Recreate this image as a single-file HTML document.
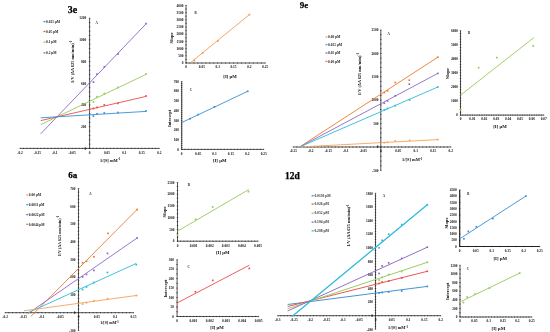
<!DOCTYPE html>
<html><head><meta charset="utf-8"><style>
html,body{margin:0;padding:0;background:#fff;width:550px;height:332px;overflow:hidden}
svg{display:block}
text{font-family:"Liberation Serif", serif}
</style></head><body>
<svg width="550" height="332" viewBox="0 0 550 332">
<rect width="550" height="332" fill="#fff"/>
<g style="will-change:transform">
<text x="72.60" y="12.70" font-size="10" font-weight="bold" text-anchor="middle" fill="#000" stroke="#000" stroke-width="0.25">3e</text>
<line x1="20.00" y1="148.40" x2="159.20" y2="148.40" stroke="#555" stroke-width="1.0"/>
<line x1="89.60" y1="148.40" x2="89.60" y2="18.20" stroke="#555" stroke-width="1.0"/>
<line x1="20.00" y1="147.80" x2="20.00" y2="149.00" stroke="#111" stroke-width="0.6"/>
<line x1="23.48" y1="147.80" x2="23.48" y2="149.00" stroke="#111" stroke-width="0.6"/>
<line x1="26.96" y1="147.80" x2="26.96" y2="149.00" stroke="#111" stroke-width="0.6"/>
<line x1="30.44" y1="147.80" x2="30.44" y2="149.00" stroke="#111" stroke-width="0.6"/>
<line x1="33.92" y1="147.80" x2="33.92" y2="149.00" stroke="#111" stroke-width="0.6"/>
<line x1="37.40" y1="147.80" x2="37.40" y2="149.00" stroke="#111" stroke-width="0.6"/>
<line x1="40.88" y1="147.80" x2="40.88" y2="149.00" stroke="#111" stroke-width="0.6"/>
<line x1="44.36" y1="147.80" x2="44.36" y2="149.00" stroke="#111" stroke-width="0.6"/>
<line x1="47.84" y1="147.80" x2="47.84" y2="149.00" stroke="#111" stroke-width="0.6"/>
<line x1="51.32" y1="147.80" x2="51.32" y2="149.00" stroke="#111" stroke-width="0.6"/>
<line x1="54.80" y1="147.80" x2="54.80" y2="149.00" stroke="#111" stroke-width="0.6"/>
<line x1="58.28" y1="147.80" x2="58.28" y2="149.00" stroke="#111" stroke-width="0.6"/>
<line x1="61.76" y1="147.80" x2="61.76" y2="149.00" stroke="#111" stroke-width="0.6"/>
<line x1="65.24" y1="147.80" x2="65.24" y2="149.00" stroke="#111" stroke-width="0.6"/>
<line x1="68.72" y1="147.80" x2="68.72" y2="149.00" stroke="#111" stroke-width="0.6"/>
<line x1="72.20" y1="147.80" x2="72.20" y2="149.00" stroke="#111" stroke-width="0.6"/>
<line x1="75.68" y1="147.80" x2="75.68" y2="149.00" stroke="#111" stroke-width="0.6"/>
<line x1="79.16" y1="147.80" x2="79.16" y2="149.00" stroke="#111" stroke-width="0.6"/>
<line x1="82.64" y1="147.80" x2="82.64" y2="149.00" stroke="#111" stroke-width="0.6"/>
<line x1="86.12" y1="147.80" x2="86.12" y2="149.00" stroke="#111" stroke-width="0.6"/>
<line x1="89.60" y1="147.80" x2="89.60" y2="149.00" stroke="#111" stroke-width="0.6"/>
<line x1="93.08" y1="147.80" x2="93.08" y2="149.00" stroke="#111" stroke-width="0.6"/>
<line x1="96.56" y1="147.80" x2="96.56" y2="149.00" stroke="#111" stroke-width="0.6"/>
<line x1="100.04" y1="147.80" x2="100.04" y2="149.00" stroke="#111" stroke-width="0.6"/>
<line x1="103.52" y1="147.80" x2="103.52" y2="149.00" stroke="#111" stroke-width="0.6"/>
<line x1="107.00" y1="147.80" x2="107.00" y2="149.00" stroke="#111" stroke-width="0.6"/>
<line x1="110.48" y1="147.80" x2="110.48" y2="149.00" stroke="#111" stroke-width="0.6"/>
<line x1="113.96" y1="147.80" x2="113.96" y2="149.00" stroke="#111" stroke-width="0.6"/>
<line x1="117.44" y1="147.80" x2="117.44" y2="149.00" stroke="#111" stroke-width="0.6"/>
<line x1="120.92" y1="147.80" x2="120.92" y2="149.00" stroke="#111" stroke-width="0.6"/>
<line x1="124.40" y1="147.80" x2="124.40" y2="149.00" stroke="#111" stroke-width="0.6"/>
<line x1="127.88" y1="147.80" x2="127.88" y2="149.00" stroke="#111" stroke-width="0.6"/>
<line x1="131.36" y1="147.80" x2="131.36" y2="149.00" stroke="#111" stroke-width="0.6"/>
<line x1="134.84" y1="147.80" x2="134.84" y2="149.00" stroke="#111" stroke-width="0.6"/>
<line x1="138.32" y1="147.80" x2="138.32" y2="149.00" stroke="#111" stroke-width="0.6"/>
<line x1="141.80" y1="147.80" x2="141.80" y2="149.00" stroke="#111" stroke-width="0.6"/>
<line x1="145.28" y1="147.80" x2="145.28" y2="149.00" stroke="#111" stroke-width="0.6"/>
<line x1="148.76" y1="147.80" x2="148.76" y2="149.00" stroke="#111" stroke-width="0.6"/>
<line x1="152.24" y1="147.80" x2="152.24" y2="149.00" stroke="#111" stroke-width="0.6"/>
<line x1="155.72" y1="147.80" x2="155.72" y2="149.00" stroke="#111" stroke-width="0.6"/>
<line x1="159.20" y1="147.80" x2="159.20" y2="149.00" stroke="#111" stroke-width="0.6"/>
<line x1="88.85" y1="148.40" x2="90.35" y2="148.40" stroke="#111" stroke-width="0.6"/>
<line x1="88.85" y1="144.06" x2="90.35" y2="144.06" stroke="#111" stroke-width="0.6"/>
<line x1="88.85" y1="139.72" x2="90.35" y2="139.72" stroke="#111" stroke-width="0.6"/>
<line x1="88.85" y1="135.38" x2="90.35" y2="135.38" stroke="#111" stroke-width="0.6"/>
<line x1="88.85" y1="131.04" x2="90.35" y2="131.04" stroke="#111" stroke-width="0.6"/>
<line x1="88.85" y1="126.70" x2="90.35" y2="126.70" stroke="#111" stroke-width="0.6"/>
<line x1="88.85" y1="122.36" x2="90.35" y2="122.36" stroke="#111" stroke-width="0.6"/>
<line x1="88.85" y1="118.02" x2="90.35" y2="118.02" stroke="#111" stroke-width="0.6"/>
<line x1="88.85" y1="113.68" x2="90.35" y2="113.68" stroke="#111" stroke-width="0.6"/>
<line x1="88.85" y1="109.34" x2="90.35" y2="109.34" stroke="#111" stroke-width="0.6"/>
<line x1="88.85" y1="105.00" x2="90.35" y2="105.00" stroke="#111" stroke-width="0.6"/>
<line x1="88.85" y1="100.66" x2="90.35" y2="100.66" stroke="#111" stroke-width="0.6"/>
<line x1="88.85" y1="96.32" x2="90.35" y2="96.32" stroke="#111" stroke-width="0.6"/>
<line x1="88.85" y1="91.98" x2="90.35" y2="91.98" stroke="#111" stroke-width="0.6"/>
<line x1="88.85" y1="87.64" x2="90.35" y2="87.64" stroke="#111" stroke-width="0.6"/>
<line x1="88.85" y1="83.30" x2="90.35" y2="83.30" stroke="#111" stroke-width="0.6"/>
<line x1="88.85" y1="78.96" x2="90.35" y2="78.96" stroke="#111" stroke-width="0.6"/>
<line x1="88.85" y1="74.62" x2="90.35" y2="74.62" stroke="#111" stroke-width="0.6"/>
<line x1="88.85" y1="70.28" x2="90.35" y2="70.28" stroke="#111" stroke-width="0.6"/>
<line x1="88.85" y1="65.94" x2="90.35" y2="65.94" stroke="#111" stroke-width="0.6"/>
<line x1="88.85" y1="61.60" x2="90.35" y2="61.60" stroke="#111" stroke-width="0.6"/>
<line x1="88.85" y1="57.26" x2="90.35" y2="57.26" stroke="#111" stroke-width="0.6"/>
<line x1="88.85" y1="52.92" x2="90.35" y2="52.92" stroke="#111" stroke-width="0.6"/>
<line x1="88.85" y1="48.58" x2="90.35" y2="48.58" stroke="#111" stroke-width="0.6"/>
<line x1="88.85" y1="44.24" x2="90.35" y2="44.24" stroke="#111" stroke-width="0.6"/>
<line x1="88.85" y1="39.90" x2="90.35" y2="39.90" stroke="#111" stroke-width="0.6"/>
<line x1="88.85" y1="35.56" x2="90.35" y2="35.56" stroke="#111" stroke-width="0.6"/>
<line x1="88.85" y1="31.22" x2="90.35" y2="31.22" stroke="#111" stroke-width="0.6"/>
<line x1="88.85" y1="26.88" x2="90.35" y2="26.88" stroke="#111" stroke-width="0.6"/>
<line x1="88.85" y1="22.54" x2="90.35" y2="22.54" stroke="#111" stroke-width="0.6"/>
<line x1="88.85" y1="18.20" x2="90.35" y2="18.20" stroke="#111" stroke-width="0.6"/>
<text x="20.00" y="153.93" font-size="3.5" font-weight="bold" text-anchor="middle" fill="#111">-0.2</text>
<text x="37.40" y="153.93" font-size="3.5" font-weight="bold" text-anchor="middle" fill="#111">-0.15</text>
<text x="54.80" y="153.93" font-size="3.5" font-weight="bold" text-anchor="middle" fill="#111">-0.1</text>
<text x="72.20" y="153.93" font-size="3.5" font-weight="bold" text-anchor="middle" fill="#111">-0.05</text>
<text x="89.60" y="153.93" font-size="3.5" font-weight="bold" text-anchor="middle" fill="#111">0</text>
<text x="107.00" y="153.93" font-size="3.5" font-weight="bold" text-anchor="middle" fill="#111">0.05</text>
<text x="124.40" y="153.93" font-size="3.5" font-weight="bold" text-anchor="middle" fill="#111">0.1</text>
<text x="141.80" y="153.93" font-size="3.5" font-weight="bold" text-anchor="middle" fill="#111">0.15</text>
<text x="159.20" y="153.93" font-size="3.5" font-weight="bold" text-anchor="middle" fill="#111">0.2</text>
<text x="86.30" y="149.62" font-size="3.5" font-weight="bold" text-anchor="end" fill="#111">0</text>
<text x="86.30" y="127.92" font-size="3.5" font-weight="bold" text-anchor="end" fill="#111">200</text>
<text x="86.30" y="106.22" font-size="3.5" font-weight="bold" text-anchor="end" fill="#111">400</text>
<text x="86.30" y="84.53" font-size="3.5" font-weight="bold" text-anchor="end" fill="#111">600</text>
<text x="86.30" y="62.83" font-size="3.5" font-weight="bold" text-anchor="end" fill="#111">800</text>
<text x="86.30" y="41.13" font-size="3.5" font-weight="bold" text-anchor="end" fill="#111">1000</text>
<text x="86.30" y="19.43" font-size="3.5" font-weight="bold" text-anchor="end" fill="#111">1200</text>
<line x1="40.71" y1="133.80" x2="145.98" y2="23.95" stroke="#8d68c6" stroke-width="0.9"/>
<line x1="40.71" y1="124.64" x2="145.98" y2="74.40" stroke="#96c95a" stroke-width="0.9"/>
<line x1="40.71" y1="120.62" x2="145.98" y2="96.43" stroke="#ea4f4c" stroke-width="0.9"/>
<line x1="40.71" y1="117.80" x2="145.98" y2="111.40" stroke="#3a8ed3" stroke-width="0.9"/>
<rect x="92.55" y="81.25" width="1.7" height="1.7" fill="#8d68c6"/>
<rect x="96.15" y="73.25" width="1.7" height="1.7" fill="#8d68c6"/>
<rect x="103.45" y="66.05" width="1.7" height="1.7" fill="#8d68c6"/>
<rect x="117.15" y="53.15" width="1.7" height="1.7" fill="#8d68c6"/>
<rect x="145.15" y="22.75" width="1.7" height="1.7" fill="#8d68c6"/>
<rect x="92.55" y="101.15" width="1.7" height="1.7" fill="#96c95a"/>
<rect x="96.15" y="95.85" width="1.7" height="1.7" fill="#96c95a"/>
<rect x="103.45" y="92.65" width="1.7" height="1.7" fill="#96c95a"/>
<rect x="117.05" y="86.65" width="1.7" height="1.7" fill="#96c95a"/>
<rect x="145.15" y="73.15" width="1.7" height="1.7" fill="#96c95a"/>
<rect x="92.55" y="107.65" width="1.7" height="1.7" fill="#ea4f4c"/>
<rect x="96.15" y="106.55" width="1.7" height="1.7" fill="#ea4f4c"/>
<rect x="103.45" y="104.05" width="1.7" height="1.7" fill="#ea4f4c"/>
<rect x="117.05" y="102.55" width="1.7" height="1.7" fill="#ea4f4c"/>
<rect x="145.15" y="95.15" width="1.7" height="1.7" fill="#ea4f4c"/>
<rect x="92.55" y="115.25" width="1.7" height="1.7" fill="#3a8ed3"/>
<rect x="96.15" y="113.05" width="1.7" height="1.7" fill="#3a8ed3"/>
<rect x="103.45" y="112.15" width="1.7" height="1.7" fill="#3a8ed3"/>
<rect x="117.05" y="111.65" width="1.7" height="1.7" fill="#3a8ed3"/>
<rect x="145.15" y="110.15" width="1.7" height="1.7" fill="#3a8ed3"/>
<text x="73.95" y="61.90" font-size="4.4" font-weight="bold" text-anchor="middle" fill="#111" transform="rotate(-90 73.95 61.90)">1/V (ΔA 625 nm/min)<tspan dy="-1.5" font-size="3">-1</tspan></text>
<text x="110.10" y="161.75" font-size="4.4" font-weight="bold" text-anchor="middle" fill="#111">1/[S] mM<tspan dy="-1.5" font-size="3">-1</tspan></text>
<text x="96.70" y="24.00" font-size="3.2" font-weight="bold" text-anchor="middle" fill="#111">A</text>
<rect x="43.50" y="20.95" width="2.0" height="1.3" fill="#3a8ed3"/>
<text x="46.10" y="22.80" font-size="3.5" font-weight="bold" text-anchor="start" fill="#1a1a1a">0.025 µM</text>
<rect x="43.50" y="30.85" width="2.0" height="1.3" fill="#ea4f4c"/>
<text x="46.10" y="32.70" font-size="3.5" font-weight="bold" text-anchor="start" fill="#1a1a1a">0.05 µM</text>
<rect x="43.50" y="41.45" width="2.0" height="1.3" fill="#96c95a"/>
<text x="46.10" y="43.30" font-size="3.5" font-weight="bold" text-anchor="start" fill="#1a1a1a">0.1 µM</text>
<rect x="43.50" y="52.25" width="2.0" height="1.3" fill="#8d68c6"/>
<text x="46.10" y="54.10" font-size="3.5" font-weight="bold" text-anchor="start" fill="#1a1a1a">0.2 µM</text>
<line x1="186.00" y1="63.00" x2="265.25" y2="63.00" stroke="#555" stroke-width="1.0"/>
<line x1="186.00" y1="63.00" x2="186.00" y2="5.40" stroke="#555" stroke-width="1.0"/>
<line x1="186.00" y1="62.40" x2="186.00" y2="63.60" stroke="#111" stroke-width="0.6"/>
<line x1="189.96" y1="62.40" x2="189.96" y2="63.60" stroke="#111" stroke-width="0.6"/>
<line x1="193.93" y1="62.40" x2="193.93" y2="63.60" stroke="#111" stroke-width="0.6"/>
<line x1="197.89" y1="62.40" x2="197.89" y2="63.60" stroke="#111" stroke-width="0.6"/>
<line x1="201.85" y1="62.40" x2="201.85" y2="63.60" stroke="#111" stroke-width="0.6"/>
<line x1="205.81" y1="62.40" x2="205.81" y2="63.60" stroke="#111" stroke-width="0.6"/>
<line x1="209.78" y1="62.40" x2="209.78" y2="63.60" stroke="#111" stroke-width="0.6"/>
<line x1="213.74" y1="62.40" x2="213.74" y2="63.60" stroke="#111" stroke-width="0.6"/>
<line x1="217.70" y1="62.40" x2="217.70" y2="63.60" stroke="#111" stroke-width="0.6"/>
<line x1="221.66" y1="62.40" x2="221.66" y2="63.60" stroke="#111" stroke-width="0.6"/>
<line x1="225.62" y1="62.40" x2="225.62" y2="63.60" stroke="#111" stroke-width="0.6"/>
<line x1="229.59" y1="62.40" x2="229.59" y2="63.60" stroke="#111" stroke-width="0.6"/>
<line x1="233.55" y1="62.40" x2="233.55" y2="63.60" stroke="#111" stroke-width="0.6"/>
<line x1="237.51" y1="62.40" x2="237.51" y2="63.60" stroke="#111" stroke-width="0.6"/>
<line x1="241.47" y1="62.40" x2="241.47" y2="63.60" stroke="#111" stroke-width="0.6"/>
<line x1="245.44" y1="62.40" x2="245.44" y2="63.60" stroke="#111" stroke-width="0.6"/>
<line x1="249.40" y1="62.40" x2="249.40" y2="63.60" stroke="#111" stroke-width="0.6"/>
<line x1="253.36" y1="62.40" x2="253.36" y2="63.60" stroke="#111" stroke-width="0.6"/>
<line x1="257.32" y1="62.40" x2="257.32" y2="63.60" stroke="#111" stroke-width="0.6"/>
<line x1="261.29" y1="62.40" x2="261.29" y2="63.60" stroke="#111" stroke-width="0.6"/>
<line x1="265.25" y1="62.40" x2="265.25" y2="63.60" stroke="#111" stroke-width="0.6"/>
<line x1="185.25" y1="63.00" x2="186.75" y2="63.00" stroke="#111" stroke-width="0.6"/>
<line x1="185.25" y1="59.40" x2="186.75" y2="59.40" stroke="#111" stroke-width="0.6"/>
<line x1="185.25" y1="55.80" x2="186.75" y2="55.80" stroke="#111" stroke-width="0.6"/>
<line x1="185.25" y1="52.20" x2="186.75" y2="52.20" stroke="#111" stroke-width="0.6"/>
<line x1="185.25" y1="48.60" x2="186.75" y2="48.60" stroke="#111" stroke-width="0.6"/>
<line x1="185.25" y1="45.00" x2="186.75" y2="45.00" stroke="#111" stroke-width="0.6"/>
<line x1="185.25" y1="41.40" x2="186.75" y2="41.40" stroke="#111" stroke-width="0.6"/>
<line x1="185.25" y1="37.80" x2="186.75" y2="37.80" stroke="#111" stroke-width="0.6"/>
<line x1="185.25" y1="34.20" x2="186.75" y2="34.20" stroke="#111" stroke-width="0.6"/>
<line x1="185.25" y1="30.60" x2="186.75" y2="30.60" stroke="#111" stroke-width="0.6"/>
<line x1="185.25" y1="27.00" x2="186.75" y2="27.00" stroke="#111" stroke-width="0.6"/>
<line x1="185.25" y1="23.40" x2="186.75" y2="23.40" stroke="#111" stroke-width="0.6"/>
<line x1="185.25" y1="19.80" x2="186.75" y2="19.80" stroke="#111" stroke-width="0.6"/>
<line x1="185.25" y1="16.20" x2="186.75" y2="16.20" stroke="#111" stroke-width="0.6"/>
<line x1="185.25" y1="12.60" x2="186.75" y2="12.60" stroke="#111" stroke-width="0.6"/>
<line x1="185.25" y1="9.00" x2="186.75" y2="9.00" stroke="#111" stroke-width="0.6"/>
<line x1="185.25" y1="5.40" x2="186.75" y2="5.40" stroke="#111" stroke-width="0.6"/>
<text x="186.00" y="68.22" font-size="3.5" font-weight="bold" text-anchor="middle" fill="#111">0</text>
<text x="201.85" y="68.22" font-size="3.5" font-weight="bold" text-anchor="middle" fill="#111">0.05</text>
<text x="217.70" y="68.22" font-size="3.5" font-weight="bold" text-anchor="middle" fill="#111">0.1</text>
<text x="233.55" y="68.22" font-size="3.5" font-weight="bold" text-anchor="middle" fill="#111">0.15</text>
<text x="249.40" y="68.22" font-size="3.5" font-weight="bold" text-anchor="middle" fill="#111">0.2</text>
<text x="265.25" y="68.22" font-size="3.5" font-weight="bold" text-anchor="middle" fill="#111">0.25</text>
<text x="183.50" y="64.22" font-size="3.5" font-weight="bold" text-anchor="end" fill="#111">0</text>
<text x="183.50" y="57.02" font-size="3.5" font-weight="bold" text-anchor="end" fill="#111">500</text>
<text x="183.50" y="49.83" font-size="3.5" font-weight="bold" text-anchor="end" fill="#111">1000</text>
<text x="183.50" y="42.62" font-size="3.5" font-weight="bold" text-anchor="end" fill="#111">1500</text>
<text x="183.50" y="35.43" font-size="3.5" font-weight="bold" text-anchor="end" fill="#111">2000</text>
<text x="183.50" y="28.23" font-size="3.5" font-weight="bold" text-anchor="end" fill="#111">2500</text>
<text x="183.50" y="21.02" font-size="3.5" font-weight="bold" text-anchor="end" fill="#111">3000</text>
<text x="183.50" y="13.83" font-size="3.5" font-weight="bold" text-anchor="end" fill="#111">3500</text>
<text x="183.50" y="6.62" font-size="3.5" font-weight="bold" text-anchor="end" fill="#111">4000</text>
<line x1="190.00" y1="63.10" x2="249.40" y2="14.60" stroke="#f39a52" stroke-width="0.9"/>
<rect x="193.55" y="59.75" width="1.7" height="1.7" fill="#f39a52"/>
<rect x="201.75" y="52.05" width="1.7" height="1.7" fill="#f39a52"/>
<rect x="217.05" y="40.05" width="1.7" height="1.7" fill="#f39a52"/>
<rect x="248.55" y="13.75" width="1.7" height="1.7" fill="#f39a52"/>
<text x="173.38" y="37.90" font-size="4.8" font-weight="bold" text-anchor="middle" fill="#111" transform="rotate(-90 173.38 37.90)">Slope</text>
<text x="230.10" y="77.88" font-size="4.8" font-weight="bold" text-anchor="middle" fill="#111">[I] µM</text>
<text x="195.60" y="13.60" font-size="3.2" font-weight="bold" text-anchor="middle" fill="#111">B</text>
<line x1="181.70" y1="149.40" x2="263.70" y2="149.40" stroke="#555" stroke-width="1.0"/>
<line x1="181.70" y1="149.40" x2="181.70" y2="81.57" stroke="#555" stroke-width="1.0"/>
<line x1="181.70" y1="148.80" x2="181.70" y2="150.00" stroke="#111" stroke-width="0.6"/>
<line x1="184.98" y1="148.80" x2="184.98" y2="150.00" stroke="#111" stroke-width="0.6"/>
<line x1="188.26" y1="148.80" x2="188.26" y2="150.00" stroke="#111" stroke-width="0.6"/>
<line x1="191.54" y1="148.80" x2="191.54" y2="150.00" stroke="#111" stroke-width="0.6"/>
<line x1="194.82" y1="148.80" x2="194.82" y2="150.00" stroke="#111" stroke-width="0.6"/>
<line x1="198.10" y1="148.80" x2="198.10" y2="150.00" stroke="#111" stroke-width="0.6"/>
<line x1="201.38" y1="148.80" x2="201.38" y2="150.00" stroke="#111" stroke-width="0.6"/>
<line x1="204.66" y1="148.80" x2="204.66" y2="150.00" stroke="#111" stroke-width="0.6"/>
<line x1="207.94" y1="148.80" x2="207.94" y2="150.00" stroke="#111" stroke-width="0.6"/>
<line x1="211.22" y1="148.80" x2="211.22" y2="150.00" stroke="#111" stroke-width="0.6"/>
<line x1="214.50" y1="148.80" x2="214.50" y2="150.00" stroke="#111" stroke-width="0.6"/>
<line x1="217.78" y1="148.80" x2="217.78" y2="150.00" stroke="#111" stroke-width="0.6"/>
<line x1="221.06" y1="148.80" x2="221.06" y2="150.00" stroke="#111" stroke-width="0.6"/>
<line x1="224.34" y1="148.80" x2="224.34" y2="150.00" stroke="#111" stroke-width="0.6"/>
<line x1="227.62" y1="148.80" x2="227.62" y2="150.00" stroke="#111" stroke-width="0.6"/>
<line x1="230.90" y1="148.80" x2="230.90" y2="150.00" stroke="#111" stroke-width="0.6"/>
<line x1="234.18" y1="148.80" x2="234.18" y2="150.00" stroke="#111" stroke-width="0.6"/>
<line x1="237.46" y1="148.80" x2="237.46" y2="150.00" stroke="#111" stroke-width="0.6"/>
<line x1="240.74" y1="148.80" x2="240.74" y2="150.00" stroke="#111" stroke-width="0.6"/>
<line x1="244.02" y1="148.80" x2="244.02" y2="150.00" stroke="#111" stroke-width="0.6"/>
<line x1="247.30" y1="148.80" x2="247.30" y2="150.00" stroke="#111" stroke-width="0.6"/>
<line x1="250.58" y1="148.80" x2="250.58" y2="150.00" stroke="#111" stroke-width="0.6"/>
<line x1="253.86" y1="148.80" x2="253.86" y2="150.00" stroke="#111" stroke-width="0.6"/>
<line x1="257.14" y1="148.80" x2="257.14" y2="150.00" stroke="#111" stroke-width="0.6"/>
<line x1="260.42" y1="148.80" x2="260.42" y2="150.00" stroke="#111" stroke-width="0.6"/>
<line x1="263.70" y1="148.80" x2="263.70" y2="150.00" stroke="#111" stroke-width="0.6"/>
<line x1="180.95" y1="149.40" x2="182.45" y2="149.40" stroke="#111" stroke-width="0.6"/>
<line x1="180.95" y1="147.46" x2="182.45" y2="147.46" stroke="#111" stroke-width="0.6"/>
<line x1="180.95" y1="145.52" x2="182.45" y2="145.52" stroke="#111" stroke-width="0.6"/>
<line x1="180.95" y1="143.59" x2="182.45" y2="143.59" stroke="#111" stroke-width="0.6"/>
<line x1="180.95" y1="141.65" x2="182.45" y2="141.65" stroke="#111" stroke-width="0.6"/>
<line x1="180.95" y1="139.71" x2="182.45" y2="139.71" stroke="#111" stroke-width="0.6"/>
<line x1="180.95" y1="137.77" x2="182.45" y2="137.77" stroke="#111" stroke-width="0.6"/>
<line x1="180.95" y1="135.83" x2="182.45" y2="135.83" stroke="#111" stroke-width="0.6"/>
<line x1="180.95" y1="133.90" x2="182.45" y2="133.90" stroke="#111" stroke-width="0.6"/>
<line x1="180.95" y1="131.96" x2="182.45" y2="131.96" stroke="#111" stroke-width="0.6"/>
<line x1="180.95" y1="130.02" x2="182.45" y2="130.02" stroke="#111" stroke-width="0.6"/>
<line x1="180.95" y1="128.08" x2="182.45" y2="128.08" stroke="#111" stroke-width="0.6"/>
<line x1="180.95" y1="126.14" x2="182.45" y2="126.14" stroke="#111" stroke-width="0.6"/>
<line x1="180.95" y1="124.21" x2="182.45" y2="124.21" stroke="#111" stroke-width="0.6"/>
<line x1="180.95" y1="122.27" x2="182.45" y2="122.27" stroke="#111" stroke-width="0.6"/>
<line x1="180.95" y1="120.33" x2="182.45" y2="120.33" stroke="#111" stroke-width="0.6"/>
<line x1="180.95" y1="118.39" x2="182.45" y2="118.39" stroke="#111" stroke-width="0.6"/>
<line x1="180.95" y1="116.45" x2="182.45" y2="116.45" stroke="#111" stroke-width="0.6"/>
<line x1="180.95" y1="114.52" x2="182.45" y2="114.52" stroke="#111" stroke-width="0.6"/>
<line x1="180.95" y1="112.58" x2="182.45" y2="112.58" stroke="#111" stroke-width="0.6"/>
<line x1="180.95" y1="110.64" x2="182.45" y2="110.64" stroke="#111" stroke-width="0.6"/>
<line x1="180.95" y1="108.70" x2="182.45" y2="108.70" stroke="#111" stroke-width="0.6"/>
<line x1="180.95" y1="106.76" x2="182.45" y2="106.76" stroke="#111" stroke-width="0.6"/>
<line x1="180.95" y1="104.83" x2="182.45" y2="104.83" stroke="#111" stroke-width="0.6"/>
<line x1="180.95" y1="102.89" x2="182.45" y2="102.89" stroke="#111" stroke-width="0.6"/>
<line x1="180.95" y1="100.95" x2="182.45" y2="100.95" stroke="#111" stroke-width="0.6"/>
<line x1="180.95" y1="99.01" x2="182.45" y2="99.01" stroke="#111" stroke-width="0.6"/>
<line x1="180.95" y1="97.07" x2="182.45" y2="97.07" stroke="#111" stroke-width="0.6"/>
<line x1="180.95" y1="95.14" x2="182.45" y2="95.14" stroke="#111" stroke-width="0.6"/>
<line x1="180.95" y1="93.20" x2="182.45" y2="93.20" stroke="#111" stroke-width="0.6"/>
<line x1="180.95" y1="91.26" x2="182.45" y2="91.26" stroke="#111" stroke-width="0.6"/>
<line x1="180.95" y1="89.32" x2="182.45" y2="89.32" stroke="#111" stroke-width="0.6"/>
<line x1="180.95" y1="87.38" x2="182.45" y2="87.38" stroke="#111" stroke-width="0.6"/>
<line x1="180.95" y1="85.45" x2="182.45" y2="85.45" stroke="#111" stroke-width="0.6"/>
<line x1="180.95" y1="83.51" x2="182.45" y2="83.51" stroke="#111" stroke-width="0.6"/>
<line x1="180.95" y1="81.57" x2="182.45" y2="81.57" stroke="#111" stroke-width="0.6"/>
<text x="181.70" y="154.53" font-size="3.5" font-weight="bold" text-anchor="middle" fill="#111">0</text>
<text x="198.10" y="154.53" font-size="3.5" font-weight="bold" text-anchor="middle" fill="#111">0.05</text>
<text x="214.50" y="154.53" font-size="3.5" font-weight="bold" text-anchor="middle" fill="#111">0.1</text>
<text x="230.90" y="154.53" font-size="3.5" font-weight="bold" text-anchor="middle" fill="#111">0.15</text>
<text x="247.30" y="154.53" font-size="3.5" font-weight="bold" text-anchor="middle" fill="#111">0.2</text>
<text x="263.70" y="154.53" font-size="3.5" font-weight="bold" text-anchor="middle" fill="#111">0.25</text>
<text x="178.90" y="150.62" font-size="3.5" font-weight="bold" text-anchor="end" fill="#111">0</text>
<text x="178.90" y="140.94" font-size="3.5" font-weight="bold" text-anchor="end" fill="#111">100</text>
<text x="178.90" y="131.25" font-size="3.5" font-weight="bold" text-anchor="end" fill="#111">200</text>
<text x="178.90" y="121.56" font-size="3.5" font-weight="bold" text-anchor="end" fill="#111">300</text>
<text x="178.90" y="111.87" font-size="3.5" font-weight="bold" text-anchor="end" fill="#111">400</text>
<text x="178.90" y="102.18" font-size="3.5" font-weight="bold" text-anchor="end" fill="#111">500</text>
<text x="178.90" y="92.48" font-size="3.5" font-weight="bold" text-anchor="end" fill="#111">600</text>
<text x="178.90" y="82.80" font-size="3.5" font-weight="bold" text-anchor="end" fill="#111">700</text>
<line x1="181.70" y1="122.60" x2="247.70" y2="91.30" stroke="#3a8ed3" stroke-width="0.9"/>
<rect x="189.15" y="117.85" width="1.7" height="1.7" fill="#3a8ed3"/>
<rect x="197.25" y="113.75" width="1.7" height="1.7" fill="#3a8ed3"/>
<rect x="213.65" y="105.95" width="1.7" height="1.7" fill="#3a8ed3"/>
<rect x="246.85" y="90.45" width="1.7" height="1.7" fill="#3a8ed3"/>
<text x="171.05" y="118.40" font-size="4.4" font-weight="bold" text-anchor="middle" fill="#111" transform="rotate(-90 171.05 118.40)">Intercept</text>
<text x="219.70" y="161.78" font-size="4.8" font-weight="bold" text-anchor="middle" fill="#111">[I] µM</text>
<text x="191.00" y="90.60" font-size="3.2" font-weight="bold" text-anchor="middle" fill="#111">C</text>
<text x="304.10" y="7.70" font-size="9" font-weight="bold" text-anchor="middle" fill="#000" stroke="#000" stroke-width="0.25">9e</text>
<line x1="293.30" y1="147.00" x2="450.80" y2="147.00" stroke="#555" stroke-width="1.0"/>
<line x1="380.80" y1="170.40" x2="380.80" y2="30.00" stroke="#555" stroke-width="1.0"/>
<line x1="293.30" y1="146.40" x2="293.30" y2="147.60" stroke="#111" stroke-width="0.6"/>
<line x1="296.80" y1="146.40" x2="296.80" y2="147.60" stroke="#111" stroke-width="0.6"/>
<line x1="300.30" y1="146.40" x2="300.30" y2="147.60" stroke="#111" stroke-width="0.6"/>
<line x1="303.80" y1="146.40" x2="303.80" y2="147.60" stroke="#111" stroke-width="0.6"/>
<line x1="307.30" y1="146.40" x2="307.30" y2="147.60" stroke="#111" stroke-width="0.6"/>
<line x1="310.80" y1="146.40" x2="310.80" y2="147.60" stroke="#111" stroke-width="0.6"/>
<line x1="314.30" y1="146.40" x2="314.30" y2="147.60" stroke="#111" stroke-width="0.6"/>
<line x1="317.80" y1="146.40" x2="317.80" y2="147.60" stroke="#111" stroke-width="0.6"/>
<line x1="321.30" y1="146.40" x2="321.30" y2="147.60" stroke="#111" stroke-width="0.6"/>
<line x1="324.80" y1="146.40" x2="324.80" y2="147.60" stroke="#111" stroke-width="0.6"/>
<line x1="328.30" y1="146.40" x2="328.30" y2="147.60" stroke="#111" stroke-width="0.6"/>
<line x1="331.80" y1="146.40" x2="331.80" y2="147.60" stroke="#111" stroke-width="0.6"/>
<line x1="335.30" y1="146.40" x2="335.30" y2="147.60" stroke="#111" stroke-width="0.6"/>
<line x1="338.80" y1="146.40" x2="338.80" y2="147.60" stroke="#111" stroke-width="0.6"/>
<line x1="342.30" y1="146.40" x2="342.30" y2="147.60" stroke="#111" stroke-width="0.6"/>
<line x1="345.80" y1="146.40" x2="345.80" y2="147.60" stroke="#111" stroke-width="0.6"/>
<line x1="349.30" y1="146.40" x2="349.30" y2="147.60" stroke="#111" stroke-width="0.6"/>
<line x1="352.80" y1="146.40" x2="352.80" y2="147.60" stroke="#111" stroke-width="0.6"/>
<line x1="356.30" y1="146.40" x2="356.30" y2="147.60" stroke="#111" stroke-width="0.6"/>
<line x1="359.80" y1="146.40" x2="359.80" y2="147.60" stroke="#111" stroke-width="0.6"/>
<line x1="363.30" y1="146.40" x2="363.30" y2="147.60" stroke="#111" stroke-width="0.6"/>
<line x1="366.80" y1="146.40" x2="366.80" y2="147.60" stroke="#111" stroke-width="0.6"/>
<line x1="370.30" y1="146.40" x2="370.30" y2="147.60" stroke="#111" stroke-width="0.6"/>
<line x1="373.80" y1="146.40" x2="373.80" y2="147.60" stroke="#111" stroke-width="0.6"/>
<line x1="377.30" y1="146.40" x2="377.30" y2="147.60" stroke="#111" stroke-width="0.6"/>
<line x1="380.80" y1="146.40" x2="380.80" y2="147.60" stroke="#111" stroke-width="0.6"/>
<line x1="384.30" y1="146.40" x2="384.30" y2="147.60" stroke="#111" stroke-width="0.6"/>
<line x1="387.80" y1="146.40" x2="387.80" y2="147.60" stroke="#111" stroke-width="0.6"/>
<line x1="391.30" y1="146.40" x2="391.30" y2="147.60" stroke="#111" stroke-width="0.6"/>
<line x1="394.80" y1="146.40" x2="394.80" y2="147.60" stroke="#111" stroke-width="0.6"/>
<line x1="398.30" y1="146.40" x2="398.30" y2="147.60" stroke="#111" stroke-width="0.6"/>
<line x1="401.80" y1="146.40" x2="401.80" y2="147.60" stroke="#111" stroke-width="0.6"/>
<line x1="405.30" y1="146.40" x2="405.30" y2="147.60" stroke="#111" stroke-width="0.6"/>
<line x1="408.80" y1="146.40" x2="408.80" y2="147.60" stroke="#111" stroke-width="0.6"/>
<line x1="412.30" y1="146.40" x2="412.30" y2="147.60" stroke="#111" stroke-width="0.6"/>
<line x1="415.80" y1="146.40" x2="415.80" y2="147.60" stroke="#111" stroke-width="0.6"/>
<line x1="419.30" y1="146.40" x2="419.30" y2="147.60" stroke="#111" stroke-width="0.6"/>
<line x1="422.80" y1="146.40" x2="422.80" y2="147.60" stroke="#111" stroke-width="0.6"/>
<line x1="426.30" y1="146.40" x2="426.30" y2="147.60" stroke="#111" stroke-width="0.6"/>
<line x1="429.80" y1="146.40" x2="429.80" y2="147.60" stroke="#111" stroke-width="0.6"/>
<line x1="433.30" y1="146.40" x2="433.30" y2="147.60" stroke="#111" stroke-width="0.6"/>
<line x1="436.80" y1="146.40" x2="436.80" y2="147.60" stroke="#111" stroke-width="0.6"/>
<line x1="440.30" y1="146.40" x2="440.30" y2="147.60" stroke="#111" stroke-width="0.6"/>
<line x1="443.80" y1="146.40" x2="443.80" y2="147.60" stroke="#111" stroke-width="0.6"/>
<line x1="447.30" y1="146.40" x2="447.30" y2="147.60" stroke="#111" stroke-width="0.6"/>
<line x1="450.80" y1="146.40" x2="450.80" y2="147.60" stroke="#111" stroke-width="0.6"/>
<line x1="380.05" y1="170.40" x2="381.55" y2="170.40" stroke="#111" stroke-width="0.6"/>
<line x1="380.05" y1="165.72" x2="381.55" y2="165.72" stroke="#111" stroke-width="0.6"/>
<line x1="380.05" y1="161.04" x2="381.55" y2="161.04" stroke="#111" stroke-width="0.6"/>
<line x1="380.05" y1="156.36" x2="381.55" y2="156.36" stroke="#111" stroke-width="0.6"/>
<line x1="380.05" y1="151.68" x2="381.55" y2="151.68" stroke="#111" stroke-width="0.6"/>
<line x1="380.05" y1="147.00" x2="381.55" y2="147.00" stroke="#111" stroke-width="0.6"/>
<line x1="380.05" y1="142.32" x2="381.55" y2="142.32" stroke="#111" stroke-width="0.6"/>
<line x1="380.05" y1="137.64" x2="381.55" y2="137.64" stroke="#111" stroke-width="0.6"/>
<line x1="380.05" y1="132.96" x2="381.55" y2="132.96" stroke="#111" stroke-width="0.6"/>
<line x1="380.05" y1="128.28" x2="381.55" y2="128.28" stroke="#111" stroke-width="0.6"/>
<line x1="380.05" y1="123.60" x2="381.55" y2="123.60" stroke="#111" stroke-width="0.6"/>
<line x1="380.05" y1="118.92" x2="381.55" y2="118.92" stroke="#111" stroke-width="0.6"/>
<line x1="380.05" y1="114.24" x2="381.55" y2="114.24" stroke="#111" stroke-width="0.6"/>
<line x1="380.05" y1="109.56" x2="381.55" y2="109.56" stroke="#111" stroke-width="0.6"/>
<line x1="380.05" y1="104.88" x2="381.55" y2="104.88" stroke="#111" stroke-width="0.6"/>
<line x1="380.05" y1="100.20" x2="381.55" y2="100.20" stroke="#111" stroke-width="0.6"/>
<line x1="380.05" y1="95.52" x2="381.55" y2="95.52" stroke="#111" stroke-width="0.6"/>
<line x1="380.05" y1="90.84" x2="381.55" y2="90.84" stroke="#111" stroke-width="0.6"/>
<line x1="380.05" y1="86.16" x2="381.55" y2="86.16" stroke="#111" stroke-width="0.6"/>
<line x1="380.05" y1="81.48" x2="381.55" y2="81.48" stroke="#111" stroke-width="0.6"/>
<line x1="380.05" y1="76.80" x2="381.55" y2="76.80" stroke="#111" stroke-width="0.6"/>
<line x1="380.05" y1="72.12" x2="381.55" y2="72.12" stroke="#111" stroke-width="0.6"/>
<line x1="380.05" y1="67.44" x2="381.55" y2="67.44" stroke="#111" stroke-width="0.6"/>
<line x1="380.05" y1="62.76" x2="381.55" y2="62.76" stroke="#111" stroke-width="0.6"/>
<line x1="380.05" y1="58.08" x2="381.55" y2="58.08" stroke="#111" stroke-width="0.6"/>
<line x1="380.05" y1="53.40" x2="381.55" y2="53.40" stroke="#111" stroke-width="0.6"/>
<line x1="380.05" y1="48.72" x2="381.55" y2="48.72" stroke="#111" stroke-width="0.6"/>
<line x1="380.05" y1="44.04" x2="381.55" y2="44.04" stroke="#111" stroke-width="0.6"/>
<line x1="380.05" y1="39.36" x2="381.55" y2="39.36" stroke="#111" stroke-width="0.6"/>
<line x1="380.05" y1="34.68" x2="381.55" y2="34.68" stroke="#111" stroke-width="0.6"/>
<line x1="380.05" y1="30.00" x2="381.55" y2="30.00" stroke="#111" stroke-width="0.6"/>
<text x="293.30" y="151.92" font-size="3.5" font-weight="bold" text-anchor="middle" fill="#111">-0.25</text>
<text x="310.80" y="151.92" font-size="3.5" font-weight="bold" text-anchor="middle" fill="#111">-0.2</text>
<text x="328.30" y="151.92" font-size="3.5" font-weight="bold" text-anchor="middle" fill="#111">-0.15</text>
<text x="345.80" y="151.92" font-size="3.5" font-weight="bold" text-anchor="middle" fill="#111">-0.1</text>
<text x="363.30" y="151.92" font-size="3.5" font-weight="bold" text-anchor="middle" fill="#111">-0.05</text>
<text x="380.80" y="151.92" font-size="3.5" font-weight="bold" text-anchor="middle" fill="#111">0</text>
<text x="398.30" y="151.92" font-size="3.5" font-weight="bold" text-anchor="middle" fill="#111">0.05</text>
<text x="415.80" y="151.92" font-size="3.5" font-weight="bold" text-anchor="middle" fill="#111">0.1</text>
<text x="433.30" y="151.92" font-size="3.5" font-weight="bold" text-anchor="middle" fill="#111">0.15</text>
<text x="450.80" y="151.92" font-size="3.5" font-weight="bold" text-anchor="middle" fill="#111">0.2</text>
<text x="378.50" y="171.62" font-size="3.5" font-weight="bold" text-anchor="end" fill="#111">-500</text>
<text x="378.50" y="148.22" font-size="3.5" font-weight="bold" text-anchor="end" fill="#111">0</text>
<text x="378.50" y="124.83" font-size="3.5" font-weight="bold" text-anchor="end" fill="#111">500</text>
<text x="378.50" y="101.43" font-size="3.5" font-weight="bold" text-anchor="end" fill="#111">1000</text>
<text x="378.50" y="78.03" font-size="3.5" font-weight="bold" text-anchor="end" fill="#111">1500</text>
<text x="378.50" y="54.63" font-size="3.5" font-weight="bold" text-anchor="end" fill="#111">2000</text>
<text x="378.50" y="31.23" font-size="3.5" font-weight="bold" text-anchor="end" fill="#111">2500</text>
<line x1="299.50" y1="147.00" x2="437.80" y2="57.20" stroke="#ed7a30" stroke-width="0.9"/>
<line x1="299.50" y1="147.00" x2="437.80" y2="73.40" stroke="#8d68c6" stroke-width="0.9"/>
<line x1="299.50" y1="147.00" x2="437.80" y2="87.00" stroke="#2cbad9" stroke-width="0.9"/>
<line x1="299.50" y1="147.00" x2="437.80" y2="139.60" stroke="#f6a35c" stroke-width="0.9"/>
<rect x="383.45" y="91.75" width="1.7" height="1.7" fill="#ed7a30"/>
<rect x="386.65" y="90.05" width="1.7" height="1.7" fill="#ed7a30"/>
<rect x="394.45" y="81.65" width="1.7" height="1.7" fill="#ed7a30"/>
<rect x="408.45" y="79.35" width="1.7" height="1.7" fill="#ed7a30"/>
<rect x="436.95" y="56.35" width="1.7" height="1.7" fill="#ed7a30"/>
<rect x="383.45" y="102.35" width="1.7" height="1.7" fill="#8d68c6"/>
<rect x="386.65" y="100.15" width="1.7" height="1.7" fill="#8d68c6"/>
<rect x="394.45" y="94.95" width="1.7" height="1.7" fill="#8d68c6"/>
<rect x="408.45" y="83.35" width="1.7" height="1.7" fill="#8d68c6"/>
<rect x="436.95" y="72.55" width="1.7" height="1.7" fill="#8d68c6"/>
<rect x="383.45" y="109.25" width="1.7" height="1.7" fill="#2cbad9"/>
<rect x="386.65" y="107.55" width="1.7" height="1.7" fill="#2cbad9"/>
<rect x="394.45" y="104.85" width="1.7" height="1.7" fill="#2cbad9"/>
<rect x="408.75" y="99.15" width="1.7" height="1.7" fill="#2cbad9"/>
<rect x="436.95" y="86.15" width="1.7" height="1.7" fill="#2cbad9"/>
<rect x="383.45" y="141.85" width="1.7" height="1.7" fill="#f6a35c"/>
<rect x="386.65" y="141.45" width="1.7" height="1.7" fill="#f6a35c"/>
<rect x="394.45" y="140.15" width="1.7" height="1.7" fill="#f6a35c"/>
<rect x="408.75" y="139.55" width="1.7" height="1.7" fill="#f6a35c"/>
<rect x="436.95" y="138.75" width="1.7" height="1.7" fill="#f6a35c"/>
<text x="360.95" y="74.10" font-size="4.4" font-weight="bold" text-anchor="middle" fill="#111" transform="rotate(-90 360.95 74.10)">1/V (ΔA 625 nm/min)<tspan dy="-1.5" font-size="3">-1</tspan></text>
<text x="412.20" y="161.05" font-size="4.4" font-weight="bold" text-anchor="middle" fill="#111">1/[S] mM<tspan dy="-1.5" font-size="3">-1</tspan></text>
<text x="388.60" y="35.00" font-size="3.2" font-weight="bold" text-anchor="middle" fill="#111">A</text>
<rect x="325.50" y="36.35" width="2.0" height="1.3" fill="#f6a35c"/>
<text x="328.10" y="38.20" font-size="3.5" font-weight="bold" text-anchor="start" fill="#1a1a1a">0.00 µM</text>
<rect x="325.50" y="43.95" width="2.0" height="1.3" fill="#2cbad9"/>
<text x="328.10" y="45.80" font-size="3.5" font-weight="bold" text-anchor="start" fill="#1a1a1a">0.025 µM</text>
<rect x="325.50" y="52.35" width="2.0" height="1.3" fill="#8d68c6"/>
<text x="328.10" y="54.20" font-size="3.5" font-weight="bold" text-anchor="start" fill="#1a1a1a">0.05 µM</text>
<rect x="325.50" y="60.75" width="2.0" height="1.3" fill="#ed7a30"/>
<text x="328.10" y="62.60" font-size="3.5" font-weight="bold" text-anchor="start" fill="#1a1a1a">0.06 µM</text>
<line x1="460.50" y1="115.10" x2="543.80" y2="115.10" stroke="#555" stroke-width="1.0"/>
<line x1="460.50" y1="115.10" x2="460.50" y2="30.68" stroke="#555" stroke-width="1.0"/>
<line x1="460.50" y1="114.50" x2="460.50" y2="115.70" stroke="#111" stroke-width="0.6"/>
<line x1="462.88" y1="114.50" x2="462.88" y2="115.70" stroke="#111" stroke-width="0.6"/>
<line x1="465.26" y1="114.50" x2="465.26" y2="115.70" stroke="#111" stroke-width="0.6"/>
<line x1="467.64" y1="114.50" x2="467.64" y2="115.70" stroke="#111" stroke-width="0.6"/>
<line x1="470.02" y1="114.50" x2="470.02" y2="115.70" stroke="#111" stroke-width="0.6"/>
<line x1="472.40" y1="114.50" x2="472.40" y2="115.70" stroke="#111" stroke-width="0.6"/>
<line x1="474.78" y1="114.50" x2="474.78" y2="115.70" stroke="#111" stroke-width="0.6"/>
<line x1="477.16" y1="114.50" x2="477.16" y2="115.70" stroke="#111" stroke-width="0.6"/>
<line x1="479.54" y1="114.50" x2="479.54" y2="115.70" stroke="#111" stroke-width="0.6"/>
<line x1="481.92" y1="114.50" x2="481.92" y2="115.70" stroke="#111" stroke-width="0.6"/>
<line x1="484.30" y1="114.50" x2="484.30" y2="115.70" stroke="#111" stroke-width="0.6"/>
<line x1="486.68" y1="114.50" x2="486.68" y2="115.70" stroke="#111" stroke-width="0.6"/>
<line x1="489.06" y1="114.50" x2="489.06" y2="115.70" stroke="#111" stroke-width="0.6"/>
<line x1="491.44" y1="114.50" x2="491.44" y2="115.70" stroke="#111" stroke-width="0.6"/>
<line x1="493.82" y1="114.50" x2="493.82" y2="115.70" stroke="#111" stroke-width="0.6"/>
<line x1="496.20" y1="114.50" x2="496.20" y2="115.70" stroke="#111" stroke-width="0.6"/>
<line x1="498.58" y1="114.50" x2="498.58" y2="115.70" stroke="#111" stroke-width="0.6"/>
<line x1="500.96" y1="114.50" x2="500.96" y2="115.70" stroke="#111" stroke-width="0.6"/>
<line x1="503.34" y1="114.50" x2="503.34" y2="115.70" stroke="#111" stroke-width="0.6"/>
<line x1="505.72" y1="114.50" x2="505.72" y2="115.70" stroke="#111" stroke-width="0.6"/>
<line x1="508.10" y1="114.50" x2="508.10" y2="115.70" stroke="#111" stroke-width="0.6"/>
<line x1="510.48" y1="114.50" x2="510.48" y2="115.70" stroke="#111" stroke-width="0.6"/>
<line x1="512.86" y1="114.50" x2="512.86" y2="115.70" stroke="#111" stroke-width="0.6"/>
<line x1="515.24" y1="114.50" x2="515.24" y2="115.70" stroke="#111" stroke-width="0.6"/>
<line x1="517.62" y1="114.50" x2="517.62" y2="115.70" stroke="#111" stroke-width="0.6"/>
<line x1="520.00" y1="114.50" x2="520.00" y2="115.70" stroke="#111" stroke-width="0.6"/>
<line x1="522.38" y1="114.50" x2="522.38" y2="115.70" stroke="#111" stroke-width="0.6"/>
<line x1="524.76" y1="114.50" x2="524.76" y2="115.70" stroke="#111" stroke-width="0.6"/>
<line x1="527.14" y1="114.50" x2="527.14" y2="115.70" stroke="#111" stroke-width="0.6"/>
<line x1="529.52" y1="114.50" x2="529.52" y2="115.70" stroke="#111" stroke-width="0.6"/>
<line x1="531.90" y1="114.50" x2="531.90" y2="115.70" stroke="#111" stroke-width="0.6"/>
<line x1="534.28" y1="114.50" x2="534.28" y2="115.70" stroke="#111" stroke-width="0.6"/>
<line x1="536.66" y1="114.50" x2="536.66" y2="115.70" stroke="#111" stroke-width="0.6"/>
<line x1="539.04" y1="114.50" x2="539.04" y2="115.70" stroke="#111" stroke-width="0.6"/>
<line x1="541.42" y1="114.50" x2="541.42" y2="115.70" stroke="#111" stroke-width="0.6"/>
<line x1="543.80" y1="114.50" x2="543.80" y2="115.70" stroke="#111" stroke-width="0.6"/>
<line x1="459.75" y1="115.10" x2="461.25" y2="115.10" stroke="#111" stroke-width="0.6"/>
<line x1="459.75" y1="112.29" x2="461.25" y2="112.29" stroke="#111" stroke-width="0.6"/>
<line x1="459.75" y1="109.47" x2="461.25" y2="109.47" stroke="#111" stroke-width="0.6"/>
<line x1="459.75" y1="106.66" x2="461.25" y2="106.66" stroke="#111" stroke-width="0.6"/>
<line x1="459.75" y1="103.84" x2="461.25" y2="103.84" stroke="#111" stroke-width="0.6"/>
<line x1="459.75" y1="101.03" x2="461.25" y2="101.03" stroke="#111" stroke-width="0.6"/>
<line x1="459.75" y1="98.22" x2="461.25" y2="98.22" stroke="#111" stroke-width="0.6"/>
<line x1="459.75" y1="95.40" x2="461.25" y2="95.40" stroke="#111" stroke-width="0.6"/>
<line x1="459.75" y1="92.59" x2="461.25" y2="92.59" stroke="#111" stroke-width="0.6"/>
<line x1="459.75" y1="89.77" x2="461.25" y2="89.77" stroke="#111" stroke-width="0.6"/>
<line x1="459.75" y1="86.96" x2="461.25" y2="86.96" stroke="#111" stroke-width="0.6"/>
<line x1="459.75" y1="84.15" x2="461.25" y2="84.15" stroke="#111" stroke-width="0.6"/>
<line x1="459.75" y1="81.33" x2="461.25" y2="81.33" stroke="#111" stroke-width="0.6"/>
<line x1="459.75" y1="78.52" x2="461.25" y2="78.52" stroke="#111" stroke-width="0.6"/>
<line x1="459.75" y1="75.70" x2="461.25" y2="75.70" stroke="#111" stroke-width="0.6"/>
<line x1="459.75" y1="72.89" x2="461.25" y2="72.89" stroke="#111" stroke-width="0.6"/>
<line x1="459.75" y1="70.08" x2="461.25" y2="70.08" stroke="#111" stroke-width="0.6"/>
<line x1="459.75" y1="67.26" x2="461.25" y2="67.26" stroke="#111" stroke-width="0.6"/>
<line x1="459.75" y1="64.45" x2="461.25" y2="64.45" stroke="#111" stroke-width="0.6"/>
<line x1="459.75" y1="61.63" x2="461.25" y2="61.63" stroke="#111" stroke-width="0.6"/>
<line x1="459.75" y1="58.82" x2="461.25" y2="58.82" stroke="#111" stroke-width="0.6"/>
<line x1="459.75" y1="56.01" x2="461.25" y2="56.01" stroke="#111" stroke-width="0.6"/>
<line x1="459.75" y1="53.19" x2="461.25" y2="53.19" stroke="#111" stroke-width="0.6"/>
<line x1="459.75" y1="50.38" x2="461.25" y2="50.38" stroke="#111" stroke-width="0.6"/>
<line x1="459.75" y1="47.56" x2="461.25" y2="47.56" stroke="#111" stroke-width="0.6"/>
<line x1="459.75" y1="44.75" x2="461.25" y2="44.75" stroke="#111" stroke-width="0.6"/>
<line x1="459.75" y1="41.94" x2="461.25" y2="41.94" stroke="#111" stroke-width="0.6"/>
<line x1="459.75" y1="39.12" x2="461.25" y2="39.12" stroke="#111" stroke-width="0.6"/>
<line x1="459.75" y1="36.31" x2="461.25" y2="36.31" stroke="#111" stroke-width="0.6"/>
<line x1="459.75" y1="33.49" x2="461.25" y2="33.49" stroke="#111" stroke-width="0.6"/>
<line x1="459.75" y1="30.68" x2="461.25" y2="30.68" stroke="#111" stroke-width="0.6"/>
<text x="460.50" y="120.22" font-size="3.5" font-weight="bold" text-anchor="middle" fill="#111">0</text>
<text x="472.40" y="120.22" font-size="3.5" font-weight="bold" text-anchor="middle" fill="#111">0.01</text>
<text x="484.30" y="120.22" font-size="3.5" font-weight="bold" text-anchor="middle" fill="#111">0.02</text>
<text x="496.20" y="120.22" font-size="3.5" font-weight="bold" text-anchor="middle" fill="#111">0.03</text>
<text x="508.10" y="120.22" font-size="3.5" font-weight="bold" text-anchor="middle" fill="#111">0.04</text>
<text x="520.00" y="120.22" font-size="3.5" font-weight="bold" text-anchor="middle" fill="#111">0.05</text>
<text x="531.90" y="120.22" font-size="3.5" font-weight="bold" text-anchor="middle" fill="#111">0.06</text>
<text x="543.80" y="120.22" font-size="3.5" font-weight="bold" text-anchor="middle" fill="#111">0.07</text>
<text x="458.10" y="116.32" font-size="3.5" font-weight="bold" text-anchor="end" fill="#111">0</text>
<text x="458.10" y="102.25" font-size="3.5" font-weight="bold" text-anchor="end" fill="#111">1000</text>
<text x="458.10" y="88.18" font-size="3.5" font-weight="bold" text-anchor="end" fill="#111">2000</text>
<text x="458.10" y="74.11" font-size="3.5" font-weight="bold" text-anchor="end" fill="#111">3000</text>
<text x="458.10" y="60.04" font-size="3.5" font-weight="bold" text-anchor="end" fill="#111">4000</text>
<text x="458.10" y="45.97" font-size="3.5" font-weight="bold" text-anchor="end" fill="#111">5000</text>
<text x="458.10" y="31.90" font-size="3.5" font-weight="bold" text-anchor="end" fill="#111">6000</text>
<line x1="460.50" y1="95.20" x2="533.90" y2="37.60" stroke="#96c95a" stroke-width="0.9"/>
<rect x="477.75" y="66.85" width="1.7" height="1.7" fill="#96c95a"/>
<rect x="496.05" y="56.75" width="1.7" height="1.7" fill="#96c95a"/>
<rect x="532.35" y="45.05" width="1.7" height="1.7" fill="#96c95a"/>
<rect x="459.65" y="108.85" width="1.7" height="1.7" fill="#96c95a"/>
<text x="449.48" y="73.50" font-size="4.8" font-weight="bold" text-anchor="middle" fill="#111" transform="rotate(-90 449.48 73.50)">Slope</text>
<text x="500.00" y="127.68" font-size="4.8" font-weight="bold" text-anchor="middle" fill="#111">[I] µM</text>
<text x="469.10" y="34.40" font-size="3.2" font-weight="bold" text-anchor="middle" fill="#111">B</text>
<text x="72.80" y="177.70" font-size="9" font-weight="bold" text-anchor="middle" fill="#000" stroke="#000" stroke-width="0.25">6a</text>
<line x1="5.14" y1="312.70" x2="133.52" y2="312.70" stroke="#555" stroke-width="1.0"/>
<line x1="78.50" y1="330.43" x2="78.50" y2="188.59" stroke="#555" stroke-width="1.0"/>
<line x1="5.14" y1="312.10" x2="5.14" y2="313.30" stroke="#111" stroke-width="0.6"/>
<line x1="8.81" y1="312.10" x2="8.81" y2="313.30" stroke="#111" stroke-width="0.6"/>
<line x1="12.48" y1="312.10" x2="12.48" y2="313.30" stroke="#111" stroke-width="0.6"/>
<line x1="16.14" y1="312.10" x2="16.14" y2="313.30" stroke="#111" stroke-width="0.6"/>
<line x1="19.81" y1="312.10" x2="19.81" y2="313.30" stroke="#111" stroke-width="0.6"/>
<line x1="23.48" y1="312.10" x2="23.48" y2="313.30" stroke="#111" stroke-width="0.6"/>
<line x1="27.15" y1="312.10" x2="27.15" y2="313.30" stroke="#111" stroke-width="0.6"/>
<line x1="30.82" y1="312.10" x2="30.82" y2="313.30" stroke="#111" stroke-width="0.6"/>
<line x1="34.48" y1="312.10" x2="34.48" y2="313.30" stroke="#111" stroke-width="0.6"/>
<line x1="38.15" y1="312.10" x2="38.15" y2="313.30" stroke="#111" stroke-width="0.6"/>
<line x1="41.82" y1="312.10" x2="41.82" y2="313.30" stroke="#111" stroke-width="0.6"/>
<line x1="45.49" y1="312.10" x2="45.49" y2="313.30" stroke="#111" stroke-width="0.6"/>
<line x1="49.16" y1="312.10" x2="49.16" y2="313.30" stroke="#111" stroke-width="0.6"/>
<line x1="52.82" y1="312.10" x2="52.82" y2="313.30" stroke="#111" stroke-width="0.6"/>
<line x1="56.49" y1="312.10" x2="56.49" y2="313.30" stroke="#111" stroke-width="0.6"/>
<line x1="60.16" y1="312.10" x2="60.16" y2="313.30" stroke="#111" stroke-width="0.6"/>
<line x1="63.83" y1="312.10" x2="63.83" y2="313.30" stroke="#111" stroke-width="0.6"/>
<line x1="67.50" y1="312.10" x2="67.50" y2="313.30" stroke="#111" stroke-width="0.6"/>
<line x1="71.16" y1="312.10" x2="71.16" y2="313.30" stroke="#111" stroke-width="0.6"/>
<line x1="74.83" y1="312.10" x2="74.83" y2="313.30" stroke="#111" stroke-width="0.6"/>
<line x1="78.50" y1="312.10" x2="78.50" y2="313.30" stroke="#111" stroke-width="0.6"/>
<line x1="82.17" y1="312.10" x2="82.17" y2="313.30" stroke="#111" stroke-width="0.6"/>
<line x1="85.84" y1="312.10" x2="85.84" y2="313.30" stroke="#111" stroke-width="0.6"/>
<line x1="89.50" y1="312.10" x2="89.50" y2="313.30" stroke="#111" stroke-width="0.6"/>
<line x1="93.17" y1="312.10" x2="93.17" y2="313.30" stroke="#111" stroke-width="0.6"/>
<line x1="96.84" y1="312.10" x2="96.84" y2="313.30" stroke="#111" stroke-width="0.6"/>
<line x1="100.51" y1="312.10" x2="100.51" y2="313.30" stroke="#111" stroke-width="0.6"/>
<line x1="104.18" y1="312.10" x2="104.18" y2="313.30" stroke="#111" stroke-width="0.6"/>
<line x1="107.84" y1="312.10" x2="107.84" y2="313.30" stroke="#111" stroke-width="0.6"/>
<line x1="111.51" y1="312.10" x2="111.51" y2="313.30" stroke="#111" stroke-width="0.6"/>
<line x1="115.18" y1="312.10" x2="115.18" y2="313.30" stroke="#111" stroke-width="0.6"/>
<line x1="118.85" y1="312.10" x2="118.85" y2="313.30" stroke="#111" stroke-width="0.6"/>
<line x1="122.52" y1="312.10" x2="122.52" y2="313.30" stroke="#111" stroke-width="0.6"/>
<line x1="126.18" y1="312.10" x2="126.18" y2="313.30" stroke="#111" stroke-width="0.6"/>
<line x1="129.85" y1="312.10" x2="129.85" y2="313.30" stroke="#111" stroke-width="0.6"/>
<line x1="133.52" y1="312.10" x2="133.52" y2="313.30" stroke="#111" stroke-width="0.6"/>
<line x1="77.75" y1="330.43" x2="79.25" y2="330.43" stroke="#111" stroke-width="0.6"/>
<line x1="77.75" y1="326.88" x2="79.25" y2="326.88" stroke="#111" stroke-width="0.6"/>
<line x1="77.75" y1="323.34" x2="79.25" y2="323.34" stroke="#111" stroke-width="0.6"/>
<line x1="77.75" y1="319.79" x2="79.25" y2="319.79" stroke="#111" stroke-width="0.6"/>
<line x1="77.75" y1="316.25" x2="79.25" y2="316.25" stroke="#111" stroke-width="0.6"/>
<line x1="77.75" y1="312.70" x2="79.25" y2="312.70" stroke="#111" stroke-width="0.6"/>
<line x1="77.75" y1="309.15" x2="79.25" y2="309.15" stroke="#111" stroke-width="0.6"/>
<line x1="77.75" y1="305.61" x2="79.25" y2="305.61" stroke="#111" stroke-width="0.6"/>
<line x1="77.75" y1="302.06" x2="79.25" y2="302.06" stroke="#111" stroke-width="0.6"/>
<line x1="77.75" y1="298.52" x2="79.25" y2="298.52" stroke="#111" stroke-width="0.6"/>
<line x1="77.75" y1="294.97" x2="79.25" y2="294.97" stroke="#111" stroke-width="0.6"/>
<line x1="77.75" y1="291.42" x2="79.25" y2="291.42" stroke="#111" stroke-width="0.6"/>
<line x1="77.75" y1="287.88" x2="79.25" y2="287.88" stroke="#111" stroke-width="0.6"/>
<line x1="77.75" y1="284.33" x2="79.25" y2="284.33" stroke="#111" stroke-width="0.6"/>
<line x1="77.75" y1="280.79" x2="79.25" y2="280.79" stroke="#111" stroke-width="0.6"/>
<line x1="77.75" y1="277.24" x2="79.25" y2="277.24" stroke="#111" stroke-width="0.6"/>
<line x1="77.75" y1="273.69" x2="79.25" y2="273.69" stroke="#111" stroke-width="0.6"/>
<line x1="77.75" y1="270.15" x2="79.25" y2="270.15" stroke="#111" stroke-width="0.6"/>
<line x1="77.75" y1="266.60" x2="79.25" y2="266.60" stroke="#111" stroke-width="0.6"/>
<line x1="77.75" y1="263.06" x2="79.25" y2="263.06" stroke="#111" stroke-width="0.6"/>
<line x1="77.75" y1="259.51" x2="79.25" y2="259.51" stroke="#111" stroke-width="0.6"/>
<line x1="77.75" y1="255.96" x2="79.25" y2="255.96" stroke="#111" stroke-width="0.6"/>
<line x1="77.75" y1="252.42" x2="79.25" y2="252.42" stroke="#111" stroke-width="0.6"/>
<line x1="77.75" y1="248.87" x2="79.25" y2="248.87" stroke="#111" stroke-width="0.6"/>
<line x1="77.75" y1="245.33" x2="79.25" y2="245.33" stroke="#111" stroke-width="0.6"/>
<line x1="77.75" y1="241.78" x2="79.25" y2="241.78" stroke="#111" stroke-width="0.6"/>
<line x1="77.75" y1="238.23" x2="79.25" y2="238.23" stroke="#111" stroke-width="0.6"/>
<line x1="77.75" y1="234.69" x2="79.25" y2="234.69" stroke="#111" stroke-width="0.6"/>
<line x1="77.75" y1="231.14" x2="79.25" y2="231.14" stroke="#111" stroke-width="0.6"/>
<line x1="77.75" y1="227.60" x2="79.25" y2="227.60" stroke="#111" stroke-width="0.6"/>
<line x1="77.75" y1="224.05" x2="79.25" y2="224.05" stroke="#111" stroke-width="0.6"/>
<line x1="77.75" y1="220.50" x2="79.25" y2="220.50" stroke="#111" stroke-width="0.6"/>
<line x1="77.75" y1="216.96" x2="79.25" y2="216.96" stroke="#111" stroke-width="0.6"/>
<line x1="77.75" y1="213.41" x2="79.25" y2="213.41" stroke="#111" stroke-width="0.6"/>
<line x1="77.75" y1="209.87" x2="79.25" y2="209.87" stroke="#111" stroke-width="0.6"/>
<line x1="77.75" y1="206.32" x2="79.25" y2="206.32" stroke="#111" stroke-width="0.6"/>
<line x1="77.75" y1="202.77" x2="79.25" y2="202.77" stroke="#111" stroke-width="0.6"/>
<line x1="77.75" y1="199.23" x2="79.25" y2="199.23" stroke="#111" stroke-width="0.6"/>
<line x1="77.75" y1="195.68" x2="79.25" y2="195.68" stroke="#111" stroke-width="0.6"/>
<line x1="77.75" y1="192.14" x2="79.25" y2="192.14" stroke="#111" stroke-width="0.6"/>
<line x1="77.75" y1="188.59" x2="79.25" y2="188.59" stroke="#111" stroke-width="0.6"/>
<text x="5.14" y="318.32" font-size="3.5" font-weight="bold" text-anchor="middle" fill="#111">-0.2</text>
<text x="23.48" y="318.32" font-size="3.5" font-weight="bold" text-anchor="middle" fill="#111">-0.15</text>
<text x="41.82" y="318.32" font-size="3.5" font-weight="bold" text-anchor="middle" fill="#111">-0.1</text>
<text x="60.16" y="318.32" font-size="3.5" font-weight="bold" text-anchor="middle" fill="#111">-0.05</text>
<text x="78.50" y="318.32" font-size="3.5" font-weight="bold" text-anchor="middle" fill="#111">0</text>
<text x="96.84" y="318.32" font-size="3.5" font-weight="bold" text-anchor="middle" fill="#111">0.05</text>
<text x="115.18" y="318.32" font-size="3.5" font-weight="bold" text-anchor="middle" fill="#111">0.1</text>
<text x="133.52" y="318.32" font-size="3.5" font-weight="bold" text-anchor="middle" fill="#111">0.15</text>
<text x="75.50" y="331.66" font-size="3.5" font-weight="bold" text-anchor="end" fill="#111">-100</text>
<text x="75.50" y="313.93" font-size="3.5" font-weight="bold" text-anchor="end" fill="#111">0</text>
<text x="75.50" y="296.20" font-size="3.5" font-weight="bold" text-anchor="end" fill="#111">100</text>
<text x="75.50" y="278.47" font-size="3.5" font-weight="bold" text-anchor="end" fill="#111">200</text>
<text x="75.50" y="260.74" font-size="3.5" font-weight="bold" text-anchor="end" fill="#111">300</text>
<text x="75.50" y="243.00" font-size="3.5" font-weight="bold" text-anchor="end" fill="#111">400</text>
<text x="75.50" y="225.27" font-size="3.5" font-weight="bold" text-anchor="end" fill="#111">500</text>
<text x="75.50" y="207.54" font-size="3.5" font-weight="bold" text-anchor="end" fill="#111">600</text>
<text x="75.50" y="189.81" font-size="3.5" font-weight="bold" text-anchor="end" fill="#111">700</text>
<line x1="30.80" y1="316.50" x2="137.10" y2="209.50" stroke="#ed7a30" stroke-width="0.9"/>
<line x1="28.00" y1="313.50" x2="137.10" y2="238.00" stroke="#8d68c6" stroke-width="0.9"/>
<line x1="27.70" y1="312.90" x2="136.30" y2="263.40" stroke="#2cbad9" stroke-width="0.9"/>
<line x1="23.90" y1="310.80" x2="137.60" y2="295.30" stroke="#f6a35c" stroke-width="0.9"/>
<rect x="81.75" y="261.95" width="1.7" height="1.7" fill="#ed7a30"/>
<rect x="85.65" y="260.45" width="1.7" height="1.7" fill="#ed7a30"/>
<rect x="93.05" y="255.95" width="1.7" height="1.7" fill="#ed7a30"/>
<rect x="107.15" y="232.55" width="1.7" height="1.7" fill="#ed7a30"/>
<rect x="136.25" y="208.65" width="1.7" height="1.7" fill="#ed7a30"/>
<rect x="81.75" y="276.15" width="1.7" height="1.7" fill="#8d68c6"/>
<rect x="85.65" y="273.55" width="1.7" height="1.7" fill="#8d68c6"/>
<rect x="93.05" y="269.55" width="1.7" height="1.7" fill="#8d68c6"/>
<rect x="106.65" y="252.55" width="1.7" height="1.7" fill="#8d68c6"/>
<rect x="136.25" y="237.15" width="1.7" height="1.7" fill="#8d68c6"/>
<rect x="81.75" y="288.75" width="1.7" height="1.7" fill="#2cbad9"/>
<rect x="85.65" y="286.15" width="1.7" height="1.7" fill="#2cbad9"/>
<rect x="93.05" y="281.65" width="1.7" height="1.7" fill="#2cbad9"/>
<rect x="106.65" y="271.65" width="1.7" height="1.7" fill="#2cbad9"/>
<rect x="135.45" y="263.85" width="1.7" height="1.7" fill="#2cbad9"/>
<rect x="81.75" y="303.15" width="1.7" height="1.7" fill="#f6a35c"/>
<rect x="85.65" y="301.85" width="1.7" height="1.7" fill="#f6a35c"/>
<rect x="93.05" y="299.95" width="1.7" height="1.7" fill="#f6a35c"/>
<rect x="106.65" y="297.85" width="1.7" height="1.7" fill="#f6a35c"/>
<rect x="135.45" y="294.75" width="1.7" height="1.7" fill="#f6a35c"/>
<text x="60.89" y="236.00" font-size="4.2" font-weight="bold" text-anchor="middle" fill="#111" transform="rotate(-90 60.89 236.00)">1/V (ΔA 625 nm/min)<tspan dy="-1.5" font-size="3">-1</tspan></text>
<text x="109.50" y="324.22" font-size="4.0" font-weight="bold" text-anchor="middle" fill="#111">1/[S] mM<tspan dy="-1.5" font-size="3">-1</tspan></text>
<text x="90.50" y="194.50" font-size="3.2" font-weight="bold" text-anchor="middle" fill="#111">A</text>
<rect x="26.20" y="194.35" width="2.0" height="1.3" fill="#f6a35c"/>
<text x="28.80" y="196.20" font-size="3.5" font-weight="bold" text-anchor="start" fill="#1a1a1a">0.00 µM</text>
<rect x="26.20" y="204.05" width="2.0" height="1.3" fill="#2cbad9"/>
<text x="28.80" y="205.90" font-size="3.5" font-weight="bold" text-anchor="start" fill="#1a1a1a">0.0011 µM</text>
<rect x="26.20" y="213.95" width="2.0" height="1.3" fill="#8d68c6"/>
<text x="28.80" y="215.80" font-size="3.5" font-weight="bold" text-anchor="start" fill="#1a1a1a">0.0022 µM</text>
<rect x="26.20" y="223.65" width="2.0" height="1.3" fill="#ed7a30"/>
<text x="28.80" y="225.50" font-size="3.5" font-weight="bold" text-anchor="start" fill="#1a1a1a">0.0044 µM</text>
<line x1="177.50" y1="241.20" x2="258.00" y2="241.20" stroke="#555" stroke-width="1.0"/>
<line x1="177.50" y1="241.20" x2="177.50" y2="182.50" stroke="#555" stroke-width="1.0"/>
<line x1="177.50" y1="240.60" x2="177.50" y2="241.80" stroke="#111" stroke-width="0.6"/>
<line x1="180.72" y1="240.60" x2="180.72" y2="241.80" stroke="#111" stroke-width="0.6"/>
<line x1="183.94" y1="240.60" x2="183.94" y2="241.80" stroke="#111" stroke-width="0.6"/>
<line x1="187.16" y1="240.60" x2="187.16" y2="241.80" stroke="#111" stroke-width="0.6"/>
<line x1="190.38" y1="240.60" x2="190.38" y2="241.80" stroke="#111" stroke-width="0.6"/>
<line x1="193.60" y1="240.60" x2="193.60" y2="241.80" stroke="#111" stroke-width="0.6"/>
<line x1="196.82" y1="240.60" x2="196.82" y2="241.80" stroke="#111" stroke-width="0.6"/>
<line x1="200.04" y1="240.60" x2="200.04" y2="241.80" stroke="#111" stroke-width="0.6"/>
<line x1="203.26" y1="240.60" x2="203.26" y2="241.80" stroke="#111" stroke-width="0.6"/>
<line x1="206.48" y1="240.60" x2="206.48" y2="241.80" stroke="#111" stroke-width="0.6"/>
<line x1="209.70" y1="240.60" x2="209.70" y2="241.80" stroke="#111" stroke-width="0.6"/>
<line x1="212.92" y1="240.60" x2="212.92" y2="241.80" stroke="#111" stroke-width="0.6"/>
<line x1="216.14" y1="240.60" x2="216.14" y2="241.80" stroke="#111" stroke-width="0.6"/>
<line x1="219.36" y1="240.60" x2="219.36" y2="241.80" stroke="#111" stroke-width="0.6"/>
<line x1="222.58" y1="240.60" x2="222.58" y2="241.80" stroke="#111" stroke-width="0.6"/>
<line x1="225.80" y1="240.60" x2="225.80" y2="241.80" stroke="#111" stroke-width="0.6"/>
<line x1="229.02" y1="240.60" x2="229.02" y2="241.80" stroke="#111" stroke-width="0.6"/>
<line x1="232.24" y1="240.60" x2="232.24" y2="241.80" stroke="#111" stroke-width="0.6"/>
<line x1="235.46" y1="240.60" x2="235.46" y2="241.80" stroke="#111" stroke-width="0.6"/>
<line x1="238.68" y1="240.60" x2="238.68" y2="241.80" stroke="#111" stroke-width="0.6"/>
<line x1="241.90" y1="240.60" x2="241.90" y2="241.80" stroke="#111" stroke-width="0.6"/>
<line x1="245.12" y1="240.60" x2="245.12" y2="241.80" stroke="#111" stroke-width="0.6"/>
<line x1="248.34" y1="240.60" x2="248.34" y2="241.80" stroke="#111" stroke-width="0.6"/>
<line x1="251.56" y1="240.60" x2="251.56" y2="241.80" stroke="#111" stroke-width="0.6"/>
<line x1="254.78" y1="240.60" x2="254.78" y2="241.80" stroke="#111" stroke-width="0.6"/>
<line x1="258.00" y1="240.60" x2="258.00" y2="241.80" stroke="#111" stroke-width="0.6"/>
<line x1="176.75" y1="241.20" x2="178.25" y2="241.20" stroke="#111" stroke-width="0.6"/>
<line x1="176.75" y1="237.29" x2="178.25" y2="237.29" stroke="#111" stroke-width="0.6"/>
<line x1="176.75" y1="233.37" x2="178.25" y2="233.37" stroke="#111" stroke-width="0.6"/>
<line x1="176.75" y1="229.46" x2="178.25" y2="229.46" stroke="#111" stroke-width="0.6"/>
<line x1="176.75" y1="225.55" x2="178.25" y2="225.55" stroke="#111" stroke-width="0.6"/>
<line x1="176.75" y1="221.63" x2="178.25" y2="221.63" stroke="#111" stroke-width="0.6"/>
<line x1="176.75" y1="217.72" x2="178.25" y2="217.72" stroke="#111" stroke-width="0.6"/>
<line x1="176.75" y1="213.81" x2="178.25" y2="213.81" stroke="#111" stroke-width="0.6"/>
<line x1="176.75" y1="209.89" x2="178.25" y2="209.89" stroke="#111" stroke-width="0.6"/>
<line x1="176.75" y1="205.98" x2="178.25" y2="205.98" stroke="#111" stroke-width="0.6"/>
<line x1="176.75" y1="202.07" x2="178.25" y2="202.07" stroke="#111" stroke-width="0.6"/>
<line x1="176.75" y1="198.15" x2="178.25" y2="198.15" stroke="#111" stroke-width="0.6"/>
<line x1="176.75" y1="194.24" x2="178.25" y2="194.24" stroke="#111" stroke-width="0.6"/>
<line x1="176.75" y1="190.33" x2="178.25" y2="190.33" stroke="#111" stroke-width="0.6"/>
<line x1="176.75" y1="186.41" x2="178.25" y2="186.41" stroke="#111" stroke-width="0.6"/>
<line x1="176.75" y1="182.50" x2="178.25" y2="182.50" stroke="#111" stroke-width="0.6"/>
<text x="177.50" y="247.12" font-size="3.5" font-weight="bold" text-anchor="middle" fill="#111">0</text>
<text x="193.60" y="247.12" font-size="3.5" font-weight="bold" text-anchor="middle" fill="#111">0.001</text>
<text x="209.70" y="247.12" font-size="3.5" font-weight="bold" text-anchor="middle" fill="#111">0.002</text>
<text x="225.80" y="247.12" font-size="3.5" font-weight="bold" text-anchor="middle" fill="#111">0.003</text>
<text x="241.90" y="247.12" font-size="3.5" font-weight="bold" text-anchor="middle" fill="#111">0.004</text>
<text x="258.00" y="247.12" font-size="3.5" font-weight="bold" text-anchor="middle" fill="#111">0.005</text>
<text x="174.50" y="242.42" font-size="3.5" font-weight="bold" text-anchor="end" fill="#111">0</text>
<text x="174.50" y="230.68" font-size="3.5" font-weight="bold" text-anchor="end" fill="#111">500</text>
<text x="174.50" y="218.94" font-size="3.5" font-weight="bold" text-anchor="end" fill="#111">1000</text>
<text x="174.50" y="207.20" font-size="3.5" font-weight="bold" text-anchor="end" fill="#111">1500</text>
<text x="174.50" y="195.47" font-size="3.5" font-weight="bold" text-anchor="end" fill="#111">2000</text>
<text x="174.50" y="183.72" font-size="3.5" font-weight="bold" text-anchor="end" fill="#111">2500</text>
<line x1="177.50" y1="231.20" x2="248.80" y2="189.50" stroke="#96c95a" stroke-width="0.9"/>
<rect x="194.75" y="218.45" width="1.7" height="1.7" fill="#96c95a"/>
<rect x="211.85" y="206.15" width="1.7" height="1.7" fill="#96c95a"/>
<rect x="247.65" y="190.75" width="1.7" height="1.7" fill="#96c95a"/>
<rect x="176.65" y="234.15" width="1.7" height="1.7" fill="#96c95a"/>
<text x="166.48" y="211.90" font-size="4.8" font-weight="bold" text-anchor="middle" fill="#111" transform="rotate(-90 166.48 211.90)">Slope</text>
<text x="222.80" y="253.98" font-size="4.8" font-weight="bold" text-anchor="middle" fill="#111">[I] µM</text>
<text x="188.80" y="186.20" font-size="3.2" font-weight="bold" text-anchor="middle" fill="#111">B</text>
<line x1="177.10" y1="316.50" x2="258.60" y2="316.50" stroke="#555" stroke-width="1.0"/>
<line x1="177.10" y1="316.50" x2="177.10" y2="259.71" stroke="#555" stroke-width="1.0"/>
<line x1="177.10" y1="315.90" x2="177.10" y2="317.10" stroke="#111" stroke-width="0.6"/>
<line x1="180.36" y1="315.90" x2="180.36" y2="317.10" stroke="#111" stroke-width="0.6"/>
<line x1="183.62" y1="315.90" x2="183.62" y2="317.10" stroke="#111" stroke-width="0.6"/>
<line x1="186.88" y1="315.90" x2="186.88" y2="317.10" stroke="#111" stroke-width="0.6"/>
<line x1="190.14" y1="315.90" x2="190.14" y2="317.10" stroke="#111" stroke-width="0.6"/>
<line x1="193.40" y1="315.90" x2="193.40" y2="317.10" stroke="#111" stroke-width="0.6"/>
<line x1="196.66" y1="315.90" x2="196.66" y2="317.10" stroke="#111" stroke-width="0.6"/>
<line x1="199.92" y1="315.90" x2="199.92" y2="317.10" stroke="#111" stroke-width="0.6"/>
<line x1="203.18" y1="315.90" x2="203.18" y2="317.10" stroke="#111" stroke-width="0.6"/>
<line x1="206.44" y1="315.90" x2="206.44" y2="317.10" stroke="#111" stroke-width="0.6"/>
<line x1="209.70" y1="315.90" x2="209.70" y2="317.10" stroke="#111" stroke-width="0.6"/>
<line x1="212.96" y1="315.90" x2="212.96" y2="317.10" stroke="#111" stroke-width="0.6"/>
<line x1="216.22" y1="315.90" x2="216.22" y2="317.10" stroke="#111" stroke-width="0.6"/>
<line x1="219.48" y1="315.90" x2="219.48" y2="317.10" stroke="#111" stroke-width="0.6"/>
<line x1="222.74" y1="315.90" x2="222.74" y2="317.10" stroke="#111" stroke-width="0.6"/>
<line x1="226.00" y1="315.90" x2="226.00" y2="317.10" stroke="#111" stroke-width="0.6"/>
<line x1="229.26" y1="315.90" x2="229.26" y2="317.10" stroke="#111" stroke-width="0.6"/>
<line x1="232.52" y1="315.90" x2="232.52" y2="317.10" stroke="#111" stroke-width="0.6"/>
<line x1="235.78" y1="315.90" x2="235.78" y2="317.10" stroke="#111" stroke-width="0.6"/>
<line x1="239.04" y1="315.90" x2="239.04" y2="317.10" stroke="#111" stroke-width="0.6"/>
<line x1="242.30" y1="315.90" x2="242.30" y2="317.10" stroke="#111" stroke-width="0.6"/>
<line x1="245.56" y1="315.90" x2="245.56" y2="317.10" stroke="#111" stroke-width="0.6"/>
<line x1="248.82" y1="315.90" x2="248.82" y2="317.10" stroke="#111" stroke-width="0.6"/>
<line x1="252.08" y1="315.90" x2="252.08" y2="317.10" stroke="#111" stroke-width="0.6"/>
<line x1="255.34" y1="315.90" x2="255.34" y2="317.10" stroke="#111" stroke-width="0.6"/>
<line x1="258.60" y1="315.90" x2="258.60" y2="317.10" stroke="#111" stroke-width="0.6"/>
<line x1="176.35" y1="316.50" x2="177.85" y2="316.50" stroke="#111" stroke-width="0.6"/>
<line x1="176.35" y1="311.77" x2="177.85" y2="311.77" stroke="#111" stroke-width="0.6"/>
<line x1="176.35" y1="307.03" x2="177.85" y2="307.03" stroke="#111" stroke-width="0.6"/>
<line x1="176.35" y1="302.30" x2="177.85" y2="302.30" stroke="#111" stroke-width="0.6"/>
<line x1="176.35" y1="297.57" x2="177.85" y2="297.57" stroke="#111" stroke-width="0.6"/>
<line x1="176.35" y1="292.84" x2="177.85" y2="292.84" stroke="#111" stroke-width="0.6"/>
<line x1="176.35" y1="288.11" x2="177.85" y2="288.11" stroke="#111" stroke-width="0.6"/>
<line x1="176.35" y1="283.37" x2="177.85" y2="283.37" stroke="#111" stroke-width="0.6"/>
<line x1="176.35" y1="278.64" x2="177.85" y2="278.64" stroke="#111" stroke-width="0.6"/>
<line x1="176.35" y1="273.91" x2="177.85" y2="273.91" stroke="#111" stroke-width="0.6"/>
<line x1="176.35" y1="269.17" x2="177.85" y2="269.17" stroke="#111" stroke-width="0.6"/>
<line x1="176.35" y1="264.44" x2="177.85" y2="264.44" stroke="#111" stroke-width="0.6"/>
<line x1="176.35" y1="259.71" x2="177.85" y2="259.71" stroke="#111" stroke-width="0.6"/>
<text x="177.10" y="322.33" font-size="3.5" font-weight="bold" text-anchor="middle" fill="#111">0</text>
<text x="193.40" y="322.33" font-size="3.5" font-weight="bold" text-anchor="middle" fill="#111">0.001</text>
<text x="209.70" y="322.33" font-size="3.5" font-weight="bold" text-anchor="middle" fill="#111">0.002</text>
<text x="226.00" y="322.33" font-size="3.5" font-weight="bold" text-anchor="middle" fill="#111">0.003</text>
<text x="242.30" y="322.33" font-size="3.5" font-weight="bold" text-anchor="middle" fill="#111">0.004</text>
<text x="258.60" y="322.33" font-size="3.5" font-weight="bold" text-anchor="middle" fill="#111">0.005</text>
<text x="173.90" y="317.73" font-size="3.5" font-weight="bold" text-anchor="end" fill="#111">0</text>
<text x="173.90" y="308.26" font-size="3.5" font-weight="bold" text-anchor="end" fill="#111">50</text>
<text x="173.90" y="298.80" font-size="3.5" font-weight="bold" text-anchor="end" fill="#111">100</text>
<text x="173.90" y="289.33" font-size="3.5" font-weight="bold" text-anchor="end" fill="#111">150</text>
<text x="173.90" y="279.87" font-size="3.5" font-weight="bold" text-anchor="end" fill="#111">200</text>
<text x="173.90" y="270.40" font-size="3.5" font-weight="bold" text-anchor="end" fill="#111">250</text>
<text x="173.90" y="260.94" font-size="3.5" font-weight="bold" text-anchor="end" fill="#111">300</text>
<line x1="177.10" y1="303.00" x2="249.30" y2="265.20" stroke="#ea4f4c" stroke-width="0.9"/>
<rect x="194.55" y="290.85" width="1.7" height="1.7" fill="#ea4f4c"/>
<rect x="211.95" y="279.55" width="1.7" height="1.7" fill="#ea4f4c"/>
<rect x="248.45" y="267.55" width="1.7" height="1.7" fill="#ea4f4c"/>
<rect x="176.25" y="306.05" width="1.7" height="1.7" fill="#ea4f4c"/>
<text x="166.72" y="288.40" font-size="4.6" font-weight="bold" text-anchor="middle" fill="#111" transform="rotate(-90 166.72 288.40)">Intercept</text>
<text x="217.10" y="328.68" font-size="4.8" font-weight="bold" text-anchor="middle" fill="#111">[I] µM</text>
<text x="188.70" y="267.60" font-size="3.2" font-weight="bold" text-anchor="middle" fill="#111">C</text>
<text x="292.40" y="179.40" font-size="9.5" font-weight="bold" text-anchor="middle" fill="#000" stroke="#000" stroke-width="0.25">12d</text>
<line x1="277.70" y1="315.70" x2="440.70" y2="315.70" stroke="#555" stroke-width="1.0"/>
<line x1="375.50" y1="329.30" x2="375.50" y2="193.30" stroke="#555" stroke-width="1.0"/>
<line x1="277.70" y1="315.10" x2="277.70" y2="316.30" stroke="#111" stroke-width="0.6"/>
<line x1="280.96" y1="315.10" x2="280.96" y2="316.30" stroke="#111" stroke-width="0.6"/>
<line x1="284.22" y1="315.10" x2="284.22" y2="316.30" stroke="#111" stroke-width="0.6"/>
<line x1="287.48" y1="315.10" x2="287.48" y2="316.30" stroke="#111" stroke-width="0.6"/>
<line x1="290.74" y1="315.10" x2="290.74" y2="316.30" stroke="#111" stroke-width="0.6"/>
<line x1="294.00" y1="315.10" x2="294.00" y2="316.30" stroke="#111" stroke-width="0.6"/>
<line x1="297.26" y1="315.10" x2="297.26" y2="316.30" stroke="#111" stroke-width="0.6"/>
<line x1="300.52" y1="315.10" x2="300.52" y2="316.30" stroke="#111" stroke-width="0.6"/>
<line x1="303.78" y1="315.10" x2="303.78" y2="316.30" stroke="#111" stroke-width="0.6"/>
<line x1="307.04" y1="315.10" x2="307.04" y2="316.30" stroke="#111" stroke-width="0.6"/>
<line x1="310.30" y1="315.10" x2="310.30" y2="316.30" stroke="#111" stroke-width="0.6"/>
<line x1="313.56" y1="315.10" x2="313.56" y2="316.30" stroke="#111" stroke-width="0.6"/>
<line x1="316.82" y1="315.10" x2="316.82" y2="316.30" stroke="#111" stroke-width="0.6"/>
<line x1="320.08" y1="315.10" x2="320.08" y2="316.30" stroke="#111" stroke-width="0.6"/>
<line x1="323.34" y1="315.10" x2="323.34" y2="316.30" stroke="#111" stroke-width="0.6"/>
<line x1="326.60" y1="315.10" x2="326.60" y2="316.30" stroke="#111" stroke-width="0.6"/>
<line x1="329.86" y1="315.10" x2="329.86" y2="316.30" stroke="#111" stroke-width="0.6"/>
<line x1="333.12" y1="315.10" x2="333.12" y2="316.30" stroke="#111" stroke-width="0.6"/>
<line x1="336.38" y1="315.10" x2="336.38" y2="316.30" stroke="#111" stroke-width="0.6"/>
<line x1="339.64" y1="315.10" x2="339.64" y2="316.30" stroke="#111" stroke-width="0.6"/>
<line x1="342.90" y1="315.10" x2="342.90" y2="316.30" stroke="#111" stroke-width="0.6"/>
<line x1="346.16" y1="315.10" x2="346.16" y2="316.30" stroke="#111" stroke-width="0.6"/>
<line x1="349.42" y1="315.10" x2="349.42" y2="316.30" stroke="#111" stroke-width="0.6"/>
<line x1="352.68" y1="315.10" x2="352.68" y2="316.30" stroke="#111" stroke-width="0.6"/>
<line x1="355.94" y1="315.10" x2="355.94" y2="316.30" stroke="#111" stroke-width="0.6"/>
<line x1="359.20" y1="315.10" x2="359.20" y2="316.30" stroke="#111" stroke-width="0.6"/>
<line x1="362.46" y1="315.10" x2="362.46" y2="316.30" stroke="#111" stroke-width="0.6"/>
<line x1="365.72" y1="315.10" x2="365.72" y2="316.30" stroke="#111" stroke-width="0.6"/>
<line x1="368.98" y1="315.10" x2="368.98" y2="316.30" stroke="#111" stroke-width="0.6"/>
<line x1="372.24" y1="315.10" x2="372.24" y2="316.30" stroke="#111" stroke-width="0.6"/>
<line x1="375.50" y1="315.10" x2="375.50" y2="316.30" stroke="#111" stroke-width="0.6"/>
<line x1="378.76" y1="315.10" x2="378.76" y2="316.30" stroke="#111" stroke-width="0.6"/>
<line x1="382.02" y1="315.10" x2="382.02" y2="316.30" stroke="#111" stroke-width="0.6"/>
<line x1="385.28" y1="315.10" x2="385.28" y2="316.30" stroke="#111" stroke-width="0.6"/>
<line x1="388.54" y1="315.10" x2="388.54" y2="316.30" stroke="#111" stroke-width="0.6"/>
<line x1="391.80" y1="315.10" x2="391.80" y2="316.30" stroke="#111" stroke-width="0.6"/>
<line x1="395.06" y1="315.10" x2="395.06" y2="316.30" stroke="#111" stroke-width="0.6"/>
<line x1="398.32" y1="315.10" x2="398.32" y2="316.30" stroke="#111" stroke-width="0.6"/>
<line x1="401.58" y1="315.10" x2="401.58" y2="316.30" stroke="#111" stroke-width="0.6"/>
<line x1="404.84" y1="315.10" x2="404.84" y2="316.30" stroke="#111" stroke-width="0.6"/>
<line x1="408.10" y1="315.10" x2="408.10" y2="316.30" stroke="#111" stroke-width="0.6"/>
<line x1="411.36" y1="315.10" x2="411.36" y2="316.30" stroke="#111" stroke-width="0.6"/>
<line x1="414.62" y1="315.10" x2="414.62" y2="316.30" stroke="#111" stroke-width="0.6"/>
<line x1="417.88" y1="315.10" x2="417.88" y2="316.30" stroke="#111" stroke-width="0.6"/>
<line x1="421.14" y1="315.10" x2="421.14" y2="316.30" stroke="#111" stroke-width="0.6"/>
<line x1="424.40" y1="315.10" x2="424.40" y2="316.30" stroke="#111" stroke-width="0.6"/>
<line x1="427.66" y1="315.10" x2="427.66" y2="316.30" stroke="#111" stroke-width="0.6"/>
<line x1="430.92" y1="315.10" x2="430.92" y2="316.30" stroke="#111" stroke-width="0.6"/>
<line x1="434.18" y1="315.10" x2="434.18" y2="316.30" stroke="#111" stroke-width="0.6"/>
<line x1="437.44" y1="315.10" x2="437.44" y2="316.30" stroke="#111" stroke-width="0.6"/>
<line x1="440.70" y1="315.10" x2="440.70" y2="316.30" stroke="#111" stroke-width="0.6"/>
<line x1="374.75" y1="329.30" x2="376.25" y2="329.30" stroke="#111" stroke-width="0.6"/>
<line x1="374.75" y1="326.58" x2="376.25" y2="326.58" stroke="#111" stroke-width="0.6"/>
<line x1="374.75" y1="323.86" x2="376.25" y2="323.86" stroke="#111" stroke-width="0.6"/>
<line x1="374.75" y1="321.14" x2="376.25" y2="321.14" stroke="#111" stroke-width="0.6"/>
<line x1="374.75" y1="318.42" x2="376.25" y2="318.42" stroke="#111" stroke-width="0.6"/>
<line x1="374.75" y1="315.70" x2="376.25" y2="315.70" stroke="#111" stroke-width="0.6"/>
<line x1="374.75" y1="312.98" x2="376.25" y2="312.98" stroke="#111" stroke-width="0.6"/>
<line x1="374.75" y1="310.26" x2="376.25" y2="310.26" stroke="#111" stroke-width="0.6"/>
<line x1="374.75" y1="307.54" x2="376.25" y2="307.54" stroke="#111" stroke-width="0.6"/>
<line x1="374.75" y1="304.82" x2="376.25" y2="304.82" stroke="#111" stroke-width="0.6"/>
<line x1="374.75" y1="302.10" x2="376.25" y2="302.10" stroke="#111" stroke-width="0.6"/>
<line x1="374.75" y1="299.38" x2="376.25" y2="299.38" stroke="#111" stroke-width="0.6"/>
<line x1="374.75" y1="296.66" x2="376.25" y2="296.66" stroke="#111" stroke-width="0.6"/>
<line x1="374.75" y1="293.94" x2="376.25" y2="293.94" stroke="#111" stroke-width="0.6"/>
<line x1="374.75" y1="291.22" x2="376.25" y2="291.22" stroke="#111" stroke-width="0.6"/>
<line x1="374.75" y1="288.50" x2="376.25" y2="288.50" stroke="#111" stroke-width="0.6"/>
<line x1="374.75" y1="285.78" x2="376.25" y2="285.78" stroke="#111" stroke-width="0.6"/>
<line x1="374.75" y1="283.06" x2="376.25" y2="283.06" stroke="#111" stroke-width="0.6"/>
<line x1="374.75" y1="280.34" x2="376.25" y2="280.34" stroke="#111" stroke-width="0.6"/>
<line x1="374.75" y1="277.62" x2="376.25" y2="277.62" stroke="#111" stroke-width="0.6"/>
<line x1="374.75" y1="274.90" x2="376.25" y2="274.90" stroke="#111" stroke-width="0.6"/>
<line x1="374.75" y1="272.18" x2="376.25" y2="272.18" stroke="#111" stroke-width="0.6"/>
<line x1="374.75" y1="269.46" x2="376.25" y2="269.46" stroke="#111" stroke-width="0.6"/>
<line x1="374.75" y1="266.74" x2="376.25" y2="266.74" stroke="#111" stroke-width="0.6"/>
<line x1="374.75" y1="264.02" x2="376.25" y2="264.02" stroke="#111" stroke-width="0.6"/>
<line x1="374.75" y1="261.30" x2="376.25" y2="261.30" stroke="#111" stroke-width="0.6"/>
<line x1="374.75" y1="258.58" x2="376.25" y2="258.58" stroke="#111" stroke-width="0.6"/>
<line x1="374.75" y1="255.86" x2="376.25" y2="255.86" stroke="#111" stroke-width="0.6"/>
<line x1="374.75" y1="253.14" x2="376.25" y2="253.14" stroke="#111" stroke-width="0.6"/>
<line x1="374.75" y1="250.42" x2="376.25" y2="250.42" stroke="#111" stroke-width="0.6"/>
<line x1="374.75" y1="247.70" x2="376.25" y2="247.70" stroke="#111" stroke-width="0.6"/>
<line x1="374.75" y1="244.98" x2="376.25" y2="244.98" stroke="#111" stroke-width="0.6"/>
<line x1="374.75" y1="242.26" x2="376.25" y2="242.26" stroke="#111" stroke-width="0.6"/>
<line x1="374.75" y1="239.54" x2="376.25" y2="239.54" stroke="#111" stroke-width="0.6"/>
<line x1="374.75" y1="236.82" x2="376.25" y2="236.82" stroke="#111" stroke-width="0.6"/>
<line x1="374.75" y1="234.10" x2="376.25" y2="234.10" stroke="#111" stroke-width="0.6"/>
<line x1="374.75" y1="231.38" x2="376.25" y2="231.38" stroke="#111" stroke-width="0.6"/>
<line x1="374.75" y1="228.66" x2="376.25" y2="228.66" stroke="#111" stroke-width="0.6"/>
<line x1="374.75" y1="225.94" x2="376.25" y2="225.94" stroke="#111" stroke-width="0.6"/>
<line x1="374.75" y1="223.22" x2="376.25" y2="223.22" stroke="#111" stroke-width="0.6"/>
<line x1="374.75" y1="220.50" x2="376.25" y2="220.50" stroke="#111" stroke-width="0.6"/>
<line x1="374.75" y1="217.78" x2="376.25" y2="217.78" stroke="#111" stroke-width="0.6"/>
<line x1="374.75" y1="215.06" x2="376.25" y2="215.06" stroke="#111" stroke-width="0.6"/>
<line x1="374.75" y1="212.34" x2="376.25" y2="212.34" stroke="#111" stroke-width="0.6"/>
<line x1="374.75" y1="209.62" x2="376.25" y2="209.62" stroke="#111" stroke-width="0.6"/>
<line x1="374.75" y1="206.90" x2="376.25" y2="206.90" stroke="#111" stroke-width="0.6"/>
<line x1="374.75" y1="204.18" x2="376.25" y2="204.18" stroke="#111" stroke-width="0.6"/>
<line x1="374.75" y1="201.46" x2="376.25" y2="201.46" stroke="#111" stroke-width="0.6"/>
<line x1="374.75" y1="198.74" x2="376.25" y2="198.74" stroke="#111" stroke-width="0.6"/>
<line x1="374.75" y1="196.02" x2="376.25" y2="196.02" stroke="#111" stroke-width="0.6"/>
<line x1="374.75" y1="193.30" x2="376.25" y2="193.30" stroke="#111" stroke-width="0.6"/>
<text x="277.70" y="320.82" font-size="3.5" font-weight="bold" text-anchor="middle" fill="#111">-0.3</text>
<text x="294.00" y="320.82" font-size="3.5" font-weight="bold" text-anchor="middle" fill="#111">-0.25</text>
<text x="310.30" y="320.82" font-size="3.5" font-weight="bold" text-anchor="middle" fill="#111">-0.2</text>
<text x="326.60" y="320.82" font-size="3.5" font-weight="bold" text-anchor="middle" fill="#111">-0.15</text>
<text x="342.90" y="320.82" font-size="3.5" font-weight="bold" text-anchor="middle" fill="#111">-0.1</text>
<text x="359.20" y="320.82" font-size="3.5" font-weight="bold" text-anchor="middle" fill="#111">-0.05</text>
<text x="375.50" y="320.82" font-size="3.5" font-weight="bold" text-anchor="middle" fill="#111">0</text>
<text x="391.80" y="320.82" font-size="3.5" font-weight="bold" text-anchor="middle" fill="#111">0.05</text>
<text x="408.10" y="320.82" font-size="3.5" font-weight="bold" text-anchor="middle" fill="#111">0.1</text>
<text x="424.40" y="320.82" font-size="3.5" font-weight="bold" text-anchor="middle" fill="#111">0.15</text>
<text x="440.70" y="320.82" font-size="3.5" font-weight="bold" text-anchor="middle" fill="#111">0.2</text>
<text x="373.10" y="330.53" font-size="3.5" font-weight="bold" text-anchor="end" fill="#111">-200</text>
<text x="373.10" y="316.93" font-size="3.5" font-weight="bold" text-anchor="end" fill="#111">0</text>
<text x="373.10" y="303.33" font-size="3.5" font-weight="bold" text-anchor="end" fill="#111">200</text>
<text x="373.10" y="289.73" font-size="3.5" font-weight="bold" text-anchor="end" fill="#111">400</text>
<text x="373.10" y="276.12" font-size="3.5" font-weight="bold" text-anchor="end" fill="#111">600</text>
<text x="373.10" y="262.53" font-size="3.5" font-weight="bold" text-anchor="end" fill="#111">800</text>
<text x="373.10" y="248.92" font-size="3.5" font-weight="bold" text-anchor="end" fill="#111">1000</text>
<text x="373.10" y="235.32" font-size="3.5" font-weight="bold" text-anchor="end" fill="#111">1200</text>
<text x="373.10" y="221.72" font-size="3.5" font-weight="bold" text-anchor="end" fill="#111">1400</text>
<text x="373.10" y="208.12" font-size="3.5" font-weight="bold" text-anchor="end" fill="#111">1600</text>
<text x="373.10" y="194.52" font-size="3.5" font-weight="bold" text-anchor="end" fill="#111">1800</text>
<line x1="287.60" y1="304.50" x2="427.30" y2="286.40" stroke="#3a8ed3" stroke-width="0.95"/>
<line x1="287.60" y1="306.50" x2="427.30" y2="271.30" stroke="#ea4f4c" stroke-width="0.95"/>
<line x1="287.60" y1="308.70" x2="427.30" y2="262.30" stroke="#96c95a" stroke-width="0.95"/>
<line x1="287.60" y1="311.00" x2="427.30" y2="247.20" stroke="#8d68c6" stroke-width="0.95"/>
<line x1="292.00" y1="316.50" x2="427.30" y2="204.70" stroke="#2cbad9" stroke-width="1.3"/>
<rect x="378.25" y="246.95" width="1.7" height="1.7" fill="#2cbad9"/>
<rect x="381.25" y="239.45" width="1.7" height="1.7" fill="#2cbad9"/>
<rect x="387.85" y="233.35" width="1.7" height="1.7" fill="#2cbad9"/>
<rect x="400.85" y="223.75" width="1.7" height="1.7" fill="#2cbad9"/>
<rect x="426.45" y="203.85" width="1.7" height="1.7" fill="#2cbad9"/>
<rect x="378.25" y="272.65" width="1.7" height="1.7" fill="#8d68c6"/>
<rect x="381.25" y="265.05" width="1.7" height="1.7" fill="#8d68c6"/>
<rect x="387.85" y="262.05" width="1.7" height="1.7" fill="#8d68c6"/>
<rect x="400.85" y="257.55" width="1.7" height="1.7" fill="#8d68c6"/>
<rect x="426.45" y="246.35" width="1.7" height="1.7" fill="#8d68c6"/>
<rect x="378.25" y="279.15" width="1.7" height="1.7" fill="#96c95a"/>
<rect x="381.25" y="276.65" width="1.7" height="1.7" fill="#96c95a"/>
<rect x="387.85" y="273.65" width="1.7" height="1.7" fill="#96c95a"/>
<rect x="400.85" y="270.65" width="1.7" height="1.7" fill="#96c95a"/>
<rect x="426.45" y="261.45" width="1.7" height="1.7" fill="#96c95a"/>
<rect x="378.25" y="282.65" width="1.7" height="1.7" fill="#ea4f4c"/>
<rect x="381.25" y="281.15" width="1.7" height="1.7" fill="#ea4f4c"/>
<rect x="387.85" y="280.15" width="1.7" height="1.7" fill="#ea4f4c"/>
<rect x="400.85" y="277.15" width="1.7" height="1.7" fill="#ea4f4c"/>
<rect x="426.45" y="270.45" width="1.7" height="1.7" fill="#ea4f4c"/>
<rect x="378.25" y="292.15" width="1.7" height="1.7" fill="#3a8ed3"/>
<rect x="381.25" y="291.65" width="1.7" height="1.7" fill="#3a8ed3"/>
<rect x="387.85" y="291.15" width="1.7" height="1.7" fill="#3a8ed3"/>
<rect x="400.85" y="290.15" width="1.7" height="1.7" fill="#3a8ed3"/>
<rect x="426.45" y="285.55" width="1.7" height="1.7" fill="#3a8ed3"/>
<text x="350.35" y="225.50" font-size="4.4" font-weight="bold" text-anchor="middle" fill="#111" transform="rotate(-90 350.35 225.50)">1/V (ΔA 625 nm/min)<tspan dy="-1.5" font-size="3">-1</tspan></text>
<text x="398.00" y="329.22" font-size="4.3" font-weight="bold" text-anchor="middle" fill="#111">1/[S] mM<tspan dy="-1.5" font-size="3">-1</tspan></text>
<text x="384.00" y="197.00" font-size="3.2" font-weight="bold" text-anchor="middle" fill="#111">A</text>
<rect x="311.60" y="195.15" width="2.0" height="1.3" fill="#3a8ed3"/>
<text x="314.40" y="197.00" font-size="3.6" font-weight="bold" text-anchor="start" fill="#333">0.0130 µM</text>
<rect x="311.60" y="203.45" width="2.0" height="1.3" fill="#ea4f4c"/>
<text x="314.40" y="205.30" font-size="3.6" font-weight="bold" text-anchor="start" fill="#333">0.026 µM</text>
<rect x="311.60" y="212.55" width="2.0" height="1.3" fill="#96c95a"/>
<text x="314.40" y="214.40" font-size="3.6" font-weight="bold" text-anchor="start" fill="#333">0.052 µM</text>
<rect x="311.60" y="221.45" width="2.0" height="1.3" fill="#8d68c6"/>
<text x="314.40" y="223.30" font-size="3.6" font-weight="bold" text-anchor="start" fill="#333">0.104 µM</text>
<rect x="311.60" y="230.15" width="2.0" height="1.3" fill="#2cbad9"/>
<text x="314.40" y="232.00" font-size="3.6" font-weight="bold" text-anchor="start" fill="#333">0.208 µM</text>
<line x1="459.70" y1="246.50" x2="539.70" y2="246.50" stroke="#222" stroke-width="1.2"/>
<line x1="459.70" y1="246.50" x2="459.70" y2="189.89" stroke="#222" stroke-width="1.2"/>
<line x1="459.70" y1="245.90" x2="459.70" y2="247.10" stroke="#111" stroke-width="0.6"/>
<line x1="467.70" y1="245.90" x2="467.70" y2="247.10" stroke="#111" stroke-width="0.6"/>
<line x1="475.70" y1="245.90" x2="475.70" y2="247.10" stroke="#111" stroke-width="0.6"/>
<line x1="483.70" y1="245.90" x2="483.70" y2="247.10" stroke="#111" stroke-width="0.6"/>
<line x1="491.70" y1="245.90" x2="491.70" y2="247.10" stroke="#111" stroke-width="0.6"/>
<line x1="499.70" y1="245.90" x2="499.70" y2="247.10" stroke="#111" stroke-width="0.6"/>
<line x1="507.70" y1="245.90" x2="507.70" y2="247.10" stroke="#111" stroke-width="0.6"/>
<line x1="515.70" y1="245.90" x2="515.70" y2="247.10" stroke="#111" stroke-width="0.6"/>
<line x1="523.70" y1="245.90" x2="523.70" y2="247.10" stroke="#111" stroke-width="0.6"/>
<line x1="531.70" y1="245.90" x2="531.70" y2="247.10" stroke="#111" stroke-width="0.6"/>
<line x1="539.70" y1="245.90" x2="539.70" y2="247.10" stroke="#111" stroke-width="0.6"/>
<line x1="458.95" y1="246.50" x2="460.45" y2="246.50" stroke="#111" stroke-width="0.6"/>
<line x1="458.95" y1="240.21" x2="460.45" y2="240.21" stroke="#111" stroke-width="0.6"/>
<line x1="458.95" y1="233.92" x2="460.45" y2="233.92" stroke="#111" stroke-width="0.6"/>
<line x1="458.95" y1="227.63" x2="460.45" y2="227.63" stroke="#111" stroke-width="0.6"/>
<line x1="458.95" y1="221.34" x2="460.45" y2="221.34" stroke="#111" stroke-width="0.6"/>
<line x1="458.95" y1="215.05" x2="460.45" y2="215.05" stroke="#111" stroke-width="0.6"/>
<line x1="458.95" y1="208.76" x2="460.45" y2="208.76" stroke="#111" stroke-width="0.6"/>
<line x1="458.95" y1="202.47" x2="460.45" y2="202.47" stroke="#111" stroke-width="0.6"/>
<line x1="458.95" y1="196.18" x2="460.45" y2="196.18" stroke="#111" stroke-width="0.6"/>
<line x1="458.95" y1="189.89" x2="460.45" y2="189.89" stroke="#111" stroke-width="0.6"/>
<text x="459.70" y="251.62" font-size="3.5" font-weight="bold" text-anchor="middle" fill="#111">0</text>
<text x="475.70" y="251.62" font-size="3.5" font-weight="bold" text-anchor="middle" fill="#111">0.05</text>
<text x="491.70" y="251.62" font-size="3.5" font-weight="bold" text-anchor="middle" fill="#111">0.1</text>
<text x="507.70" y="251.62" font-size="3.5" font-weight="bold" text-anchor="middle" fill="#111">0.15</text>
<text x="523.70" y="251.62" font-size="3.5" font-weight="bold" text-anchor="middle" fill="#111">0.2</text>
<text x="539.70" y="251.62" font-size="3.5" font-weight="bold" text-anchor="middle" fill="#111">0.25</text>
<text x="456.80" y="247.72" font-size="3.5" font-weight="bold" text-anchor="end" fill="#111">0</text>
<text x="456.80" y="241.44" font-size="3.5" font-weight="bold" text-anchor="end" fill="#111">500</text>
<text x="456.80" y="235.14" font-size="3.5" font-weight="bold" text-anchor="end" fill="#111">1000</text>
<text x="456.80" y="228.85" font-size="3.5" font-weight="bold" text-anchor="end" fill="#111">1500</text>
<text x="456.80" y="222.56" font-size="3.5" font-weight="bold" text-anchor="end" fill="#111">2000</text>
<text x="456.80" y="216.27" font-size="3.5" font-weight="bold" text-anchor="end" fill="#111">2500</text>
<text x="456.80" y="209.98" font-size="3.5" font-weight="bold" text-anchor="end" fill="#111">3000</text>
<text x="456.80" y="203.69" font-size="3.5" font-weight="bold" text-anchor="end" fill="#111">3500</text>
<text x="456.80" y="197.40" font-size="3.5" font-weight="bold" text-anchor="end" fill="#111">4000</text>
<text x="456.80" y="191.11" font-size="3.5" font-weight="bold" text-anchor="end" fill="#111">4500</text>
<line x1="459.70" y1="238.80" x2="525.80" y2="196.10" stroke="#3a8ed3" stroke-width="0.9"/>
<rect x="463.05" y="237.95" width="1.7" height="1.7" fill="#3a8ed3"/>
<rect x="467.45" y="230.55" width="1.7" height="1.7" fill="#3a8ed3"/>
<rect x="475.55" y="225.95" width="1.7" height="1.7" fill="#3a8ed3"/>
<rect x="492.05" y="217.75" width="1.7" height="1.7" fill="#3a8ed3"/>
<rect x="524.95" y="195.25" width="1.7" height="1.7" fill="#3a8ed3"/>
<text x="447.58" y="223.00" font-size="4.8" font-weight="bold" text-anchor="middle" fill="#111" transform="rotate(-90 447.58 223.00)">Slope</text>
<text x="500.30" y="260.38" font-size="4.8" font-weight="bold" text-anchor="middle" fill="#111">[I] µM</text>
<text x="468.30" y="194.80" font-size="3.2" font-weight="bold" text-anchor="middle" fill="#111">B</text>
<line x1="460.00" y1="317.00" x2="531.75" y2="317.00" stroke="#555" stroke-width="1.0"/>
<line x1="460.00" y1="317.00" x2="460.00" y2="265.28" stroke="#555" stroke-width="1.0"/>
<line x1="460.00" y1="316.40" x2="460.00" y2="317.60" stroke="#111" stroke-width="0.6"/>
<line x1="462.87" y1="316.40" x2="462.87" y2="317.60" stroke="#111" stroke-width="0.6"/>
<line x1="465.74" y1="316.40" x2="465.74" y2="317.60" stroke="#111" stroke-width="0.6"/>
<line x1="468.61" y1="316.40" x2="468.61" y2="317.60" stroke="#111" stroke-width="0.6"/>
<line x1="471.48" y1="316.40" x2="471.48" y2="317.60" stroke="#111" stroke-width="0.6"/>
<line x1="474.35" y1="316.40" x2="474.35" y2="317.60" stroke="#111" stroke-width="0.6"/>
<line x1="477.22" y1="316.40" x2="477.22" y2="317.60" stroke="#111" stroke-width="0.6"/>
<line x1="480.09" y1="316.40" x2="480.09" y2="317.60" stroke="#111" stroke-width="0.6"/>
<line x1="482.96" y1="316.40" x2="482.96" y2="317.60" stroke="#111" stroke-width="0.6"/>
<line x1="485.83" y1="316.40" x2="485.83" y2="317.60" stroke="#111" stroke-width="0.6"/>
<line x1="488.70" y1="316.40" x2="488.70" y2="317.60" stroke="#111" stroke-width="0.6"/>
<line x1="491.57" y1="316.40" x2="491.57" y2="317.60" stroke="#111" stroke-width="0.6"/>
<line x1="494.44" y1="316.40" x2="494.44" y2="317.60" stroke="#111" stroke-width="0.6"/>
<line x1="497.31" y1="316.40" x2="497.31" y2="317.60" stroke="#111" stroke-width="0.6"/>
<line x1="500.18" y1="316.40" x2="500.18" y2="317.60" stroke="#111" stroke-width="0.6"/>
<line x1="503.05" y1="316.40" x2="503.05" y2="317.60" stroke="#111" stroke-width="0.6"/>
<line x1="505.92" y1="316.40" x2="505.92" y2="317.60" stroke="#111" stroke-width="0.6"/>
<line x1="508.79" y1="316.40" x2="508.79" y2="317.60" stroke="#111" stroke-width="0.6"/>
<line x1="511.66" y1="316.40" x2="511.66" y2="317.60" stroke="#111" stroke-width="0.6"/>
<line x1="514.53" y1="316.40" x2="514.53" y2="317.60" stroke="#111" stroke-width="0.6"/>
<line x1="517.40" y1="316.40" x2="517.40" y2="317.60" stroke="#111" stroke-width="0.6"/>
<line x1="520.27" y1="316.40" x2="520.27" y2="317.60" stroke="#111" stroke-width="0.6"/>
<line x1="523.14" y1="316.40" x2="523.14" y2="317.60" stroke="#111" stroke-width="0.6"/>
<line x1="526.01" y1="316.40" x2="526.01" y2="317.60" stroke="#111" stroke-width="0.6"/>
<line x1="528.88" y1="316.40" x2="528.88" y2="317.60" stroke="#111" stroke-width="0.6"/>
<line x1="531.75" y1="316.40" x2="531.75" y2="317.60" stroke="#111" stroke-width="0.6"/>
<line x1="459.25" y1="317.00" x2="460.75" y2="317.00" stroke="#111" stroke-width="0.6"/>
<line x1="459.25" y1="312.69" x2="460.75" y2="312.69" stroke="#111" stroke-width="0.6"/>
<line x1="459.25" y1="308.38" x2="460.75" y2="308.38" stroke="#111" stroke-width="0.6"/>
<line x1="459.25" y1="304.07" x2="460.75" y2="304.07" stroke="#111" stroke-width="0.6"/>
<line x1="459.25" y1="299.76" x2="460.75" y2="299.76" stroke="#111" stroke-width="0.6"/>
<line x1="459.25" y1="295.45" x2="460.75" y2="295.45" stroke="#111" stroke-width="0.6"/>
<line x1="459.25" y1="291.14" x2="460.75" y2="291.14" stroke="#111" stroke-width="0.6"/>
<line x1="459.25" y1="286.83" x2="460.75" y2="286.83" stroke="#111" stroke-width="0.6"/>
<line x1="459.25" y1="282.52" x2="460.75" y2="282.52" stroke="#111" stroke-width="0.6"/>
<line x1="459.25" y1="278.21" x2="460.75" y2="278.21" stroke="#111" stroke-width="0.6"/>
<line x1="459.25" y1="273.90" x2="460.75" y2="273.90" stroke="#111" stroke-width="0.6"/>
<line x1="459.25" y1="269.59" x2="460.75" y2="269.59" stroke="#111" stroke-width="0.6"/>
<line x1="459.25" y1="265.28" x2="460.75" y2="265.28" stroke="#111" stroke-width="0.6"/>
<text x="460.00" y="322.03" font-size="3.5" font-weight="bold" text-anchor="middle" fill="#111">0</text>
<text x="474.35" y="322.03" font-size="3.5" font-weight="bold" text-anchor="middle" fill="#111">0.05</text>
<text x="488.70" y="322.03" font-size="3.5" font-weight="bold" text-anchor="middle" fill="#111">0.1</text>
<text x="503.05" y="322.03" font-size="3.5" font-weight="bold" text-anchor="middle" fill="#111">0.15</text>
<text x="517.40" y="322.03" font-size="3.5" font-weight="bold" text-anchor="middle" fill="#111">0.2</text>
<text x="531.75" y="322.03" font-size="3.5" font-weight="bold" text-anchor="middle" fill="#111">0.25</text>
<text x="457.50" y="318.23" font-size="3.5" font-weight="bold" text-anchor="end" fill="#111">0</text>
<text x="457.50" y="309.61" font-size="3.5" font-weight="bold" text-anchor="end" fill="#111">200</text>
<text x="457.50" y="300.99" font-size="3.5" font-weight="bold" text-anchor="end" fill="#111">400</text>
<text x="457.50" y="292.37" font-size="3.5" font-weight="bold" text-anchor="end" fill="#111">600</text>
<text x="457.50" y="283.75" font-size="3.5" font-weight="bold" text-anchor="end" fill="#111">800</text>
<text x="457.50" y="275.12" font-size="3.5" font-weight="bold" text-anchor="end" fill="#111">1000</text>
<text x="457.50" y="266.50" font-size="3.5" font-weight="bold" text-anchor="end" fill="#111">1200</text>
<line x1="461.20" y1="301.40" x2="519.70" y2="273.10" stroke="#96c95a" stroke-width="0.9"/>
<rect x="462.55" y="301.65" width="1.7" height="1.7" fill="#96c95a"/>
<rect x="466.35" y="296.15" width="1.7" height="1.7" fill="#96c95a"/>
<rect x="474.15" y="293.25" width="1.7" height="1.7" fill="#96c95a"/>
<rect x="488.55" y="287.25" width="1.7" height="1.7" fill="#96c95a"/>
<rect x="518.85" y="272.25" width="1.7" height="1.7" fill="#96c95a"/>
<text x="448.55" y="291.30" font-size="4.4" font-weight="bold" text-anchor="middle" fill="#111" transform="rotate(-90 448.55 291.30)">Intercept</text>
<text x="498.40" y="330.38" font-size="4.8" font-weight="bold" text-anchor="middle" fill="#111">[I] µM</text>
<text x="467.80" y="269.90" font-size="3.2" font-weight="bold" text-anchor="middle" fill="#111">C</text>
</g>
</svg>
</body></html>
